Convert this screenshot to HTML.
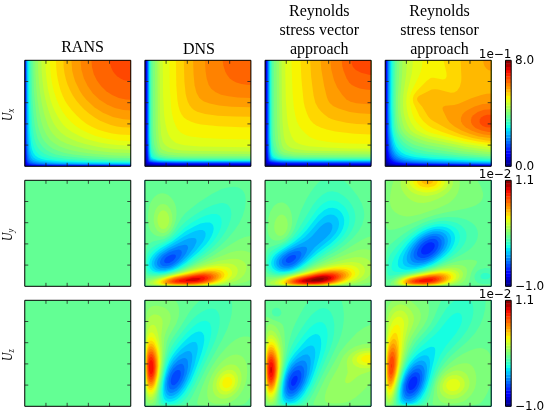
<!DOCTYPE html>
<html><head><meta charset="utf-8"><style>
html,body{margin:0;padding:0;background:#fff;}
body{width:550px;height:415px;position:relative;overflow:hidden;filter:blur(0.3px);}
.fig{position:absolute;left:0;top:0;display:block;}
.t{position:absolute;font-family:"Liberation Serif",serif;font-size:16px;line-height:18.85px;color:#000;text-align:center;white-space:nowrap;}
.cl{position:absolute;font-family:"DejaVu Sans","Liberation Sans",sans-serif;font-size:12px;line-height:12px;color:#000;white-space:nowrap;}
.yl{position:absolute;font-family:"Liberation Serif",serif;font-style:italic;font-size:14.5px;line-height:16px;color:#000;transform:rotate(-90deg) scaleX(0.8);transform-origin:0 0;white-space:nowrap;}
.yl sub{font-size:10.5px;vertical-align:-1.5px;margin-left:0.3px;}
</style></head><body>
<svg class="fig" width="550" height="415" viewBox="0 0 550 415"><g transform="translate(24.75 60.3) scale(1.00000 1.00000)"><rect width="106" height="106" fill="#00008d"/><path fill="#0000b2" d="M0.7 105.3 2.7 105.7 9.3 105.8 106 105.9 106 0 0.1 0 0.2 97.4 0.3 103.4 0.7 105.3Z"/><path fill="#0000d6" d="M2.3 105.3 106 105.7 106 0 0.3 0 0.4 99.4 0.7 104 1.3 105 2.3 105.3Z"/><path fill="#0000fa" d="M6.8 105.3 106 105.6 106 0 0.4 0 0.7 100 1.1 103.4 2 104.7 6.8 105.3Z"/><path fill="#0008ff" d="M28.8 105.3 106 105.4 106 0 0.6 0 0.7 80.2 0.9 96.1 1.3 102.2 2.3 104 4.6 104.8 28.8 105.3Z"/><path fill="#0028ff" d="M7.7 104.7 32.5 105.1 106 105.3 106 0 0.7 0 0.9 73.5 1.3 98.3 1.8 101.4 2.7 103.3 4 104.1 7.7 104.7Z"/><path fill="#0048ff" d="M18.8 104.7 106 105 106 0 1 0 1.2 79.5 2 99.4 2.5 101.4 3.3 102.6 5.3 103.7 9.3 104.3 18.8 104.7Z"/><path fill="#0068ff" d="M54.8 104.7 106 104.8 106 0 1.2 0 1.6 80.8 2.1 94.7 2.7 99 3.3 100.7 4.3 102 6 103 11.9 103.9 54.8 104.7Z"/><path fill="#0084ff" d="M27.6 104 106 104.5 106 0 1.5 0 2 78.2 2.6 92.1 3.3 97.6 4 99.5 5.3 101.3 8.4 102.7 13.9 103.4 27.6 104Z"/><path fill="#00a4ff" d="M68.1 104 106 104.1 106 0 1.9 0 2.6 80.8 3.5 92.8 4.3 96.7 5.3 99.1 6.6 100.5 8.6 101.5 11.9 102.3 17.2 102.9 32.5 103.6 68.1 104Z"/><path fill="#00c4ff" d="M52.4 103.4 106 103.7 106 0 2.3 0 2.6 51 3.2 76.8 4.3 90.1 5 94.1 6 97 7.3 98.9 9 100 11.9 101 15.9 101.7 27.8 102.7 52.4 103.4Z"/><path fill="#00e4f8" d="M54.5 102.7 106 103.2 106 0 2.8 0 3.1 41.7 3.9 72.9 5.1 87.4 6 91.8 7 94.7 8.6 97 10.7 98.7 13.9 99.9 17.5 100.7 30.5 101.9 54.5 102.7Z"/><path fill="#16ffe1" d="M62.6 102 106 102.5 106 0 3.5 0 3.9 37.8 4.8 69.6 6.3 84.8 7.3 89.3 8.7 92.8 10.6 95.3 13.2 97.3 16.7 98.7 21.2 99.7 36.4 101.2 62.6 102Z"/><path fill="#30ffc7" d="M74.8 101.4 106 101.7 106 0 4.3 0 4.7 34.4 6 67.7 7.6 81.5 9.3 87.2 11.3 91.1 13.9 94 17.2 96.1 21.2 97.5 27.2 98.9 41.1 100.2 74.8 101.4Z"/><path fill="#49ffad" d="M67.5 100 106 100.7 106 0 5.3 0 5.9 37.8 7.4 64.3 9.5 78.2 11.2 83.5 13.2 87.4 15.9 90.7 19.2 93.2 23.8 95.3 28.5 96.7 42.4 98.6 67.5 100Z"/><path fill="#63ff94" d="M94.4 99.4 106 99.5 106 0 6.5 0 7.3 33.5 8.4 50.3 9.9 64.9 11.3 72.5 12.9 78.2 15.2 82.8 17.9 86.5 21.2 89.5 26.5 92.5 30.9 94.1 38.4 95.7 62.9 98.2 94.4 99.4Z"/><path fill="#7dff7a" d="M86.8 97.4 106 97.7 106 0 8.3 0 9.2 31.1 11.7 56.3 13.1 64.9 14.6 70.4 17.2 77.2 19.9 81.2 24 85.5 27.8 88.2 33.7 90.8 39.8 92.6 48.1 94.1 59.6 95.5 86.8 97.4Z"/><path fill="#94ff63" d="M96 95.4 106 95.5 106 0 10.5 0 10.7 13.9 11.5 27.8 12.7 39.8 14.6 52 16.6 61.6 18.6 68 21.6 74.2 25.2 79.4 29.2 82.8 35 86.1 40.4 88.3 47.4 90.1 57.9 92.1 69.6 93.7 81.6 94.7 96 95.4Z"/><path fill="#adff49" d="M87.3 92.1 106 92.7 106 0 13.3 0 13.5 11.9 14.3 23.2 15.6 34.4 17.3 44.4 19.8 55 22.8 64.3 25.2 69.2 28.1 73.5 32 77.5 36.4 80.6 41.1 82.9 48.4 85.4 57 87.7 66.2 89.6 76.2 91 87.3 92.1Z"/><path fill="#c7ff30" d="M90.3 88.8 106 89.4 106 0 16.6 0 16.9 10.6 17.7 20.5 19 30.5 20.7 39.1 23.4 49 26.4 57.6 29.2 63.6 32.4 68.2 36.4 72.4 41.1 76 45.7 78.5 51.7 80.9 60.3 83.6 70.2 86 79.5 87.6 90.3 88.8Z"/><path fill="#e1ff16" d="M92.3 84.8 106 85.4 106 0 20.6 0 20.9 9.9 21.9 19.9 23.3 29.1 25.5 38.4 27.8 45.7 30.1 51 34.1 58.3 38.4 64.5 41.7 67.7 47.2 71.6 54.3 75.5 60.3 78.2 66.9 80.3 74.9 82.3 83.5 83.8 92.3 84.8Z"/><path fill="#f8f500" d="M93.8 80.2 106 80.7 106 0 25.3 0 25.6 8.6 26.3 16.6 27.6 24.5 29.2 31.2 31.8 39 34.7 45.7 38 51.7 41.7 56.8 46.4 61.7 51 65.7 56.3 69.2 62.9 72.5 70.2 75.4 77.3 77.5 84.8 79 93.8 80.2Z"/><path fill="#ffd700" d="M94.8 74.2 106 74.8 106 0 31.2 0 31.5 7.9 32.3 15.2 33.8 22.8 35.7 29.8 37.8 35.3 40.4 40.7 43.2 45 47.3 50.3 51.7 55 56.8 59.6 62 63.6 66.9 66.5 72.9 69.1 80.2 71.5 87.4 73.1 94.8 74.2Z"/><path fill="#ffb900" d="M97.8 66.9 106 67.3 106 0 38.7 0 38.9 6.6 39.7 12.6 41 18.5 42.6 23.8 45.2 29.8 48.1 35.1 51.7 40.4 55.5 45 59.6 49.3 64.3 53.3 69.6 57 74.9 60.1 80.8 62.8 86.1 64.7 92.1 66.1 97.8 66.9Z"/><path fill="#ff9c00" d="M98.7 59 106 59.4 106 0 46.6 0 47.5 10.6 48.8 15.9 50.5 21.2 55 30.5 58.1 35.1 61.6 39.5 69.6 46.9 78.2 52.5 88.1 56.7 98.7 59Z"/><path fill="#ff8200" d="M98.6 49.7 106 50.2 106 0 55.8 0 56.6 9.3 59.1 17.9 62.9 25.8 68.2 33.1 74.9 39.4 82.2 44.2 90.1 47.7 98.6 49.7Z"/><path fill="#ff6400" d="M101 39.1 106 39.4 106 0 66.6 0 67.3 7.3 69.1 13.9 72.2 20.3 76.2 25.8 81.5 30.9 87.4 34.8 94.1 37.6 101 39.1Z"/><path fill="#ff4700" d="M102.1 20.5 106 20.9 106 0 85.1 0 85.5 4 86.4 7.3 88 10.6 89.8 13.2 92.4 15.9 95.4 18 98.7 19.6 102.1 20.5Z"/></g><g transform="translate(144.9 60.3) scale(1.00000 1.00000)"><rect width="106" height="106" fill="#00008d"/><path fill="#0000b2" d="M15 105.3 106 105.4 106 0 0.4 0 0.4 86.8 0.8 102 1.3 103.9 2.7 104.6 6.6 105.1 15 105.3Z"/><path fill="#0000d6" d="M12.6 104.7 106 104.9 106 0 0.8 0 0.9 84.1 1.4 100.7 1.8 102.7 2.7 103.6 6 104.3 12.6 104.7Z"/><path fill="#0000fa" d="M11.1 104 106 104.4 106 0 1.2 0 1.3 81.5 1.7 98.7 2.1 101.4 2.7 102.7 5.3 103.5 11.1 104Z"/><path fill="#0008ff" d="M9.9 103.4 27.8 103.8 106 103.9 106 0 1.6 0 1.6 79.5 2.1 97.4 2.7 101.2 3.3 102.2 9.9 103.4Z"/><path fill="#0028ff" d="M32.1 103.4 106 103.4 106 0 2 0 2.1 84.1 2.4 94.7 3.1 100.7 4 101.9 9.9 102.8 32.1 103.4Z"/><path fill="#0048ff" d="M16.9 102.7 106 102.9 106 0 2.3 0 2.4 80.2 3.2 98.1 3.7 100.7 4.6 101.5 9.9 102.3 16.9 102.7Z"/><path fill="#0068ff" d="M12.9 102 31.1 102.5 106 102.5 106 0 2.7 0 2.8 78.2 3.4 96.1 4 99.8 4.6 100.9 7.3 101.5 12.9 102Z"/><path fill="#0084ff" d="M31.6 102 106 102.1 106 0 3.1 0 3.2 82.2 3.6 93.4 4.4 99.4 4.7 100 5.7 100.7 10.1 101.4 31.6 102Z"/><path fill="#00a4ff" d="M16.1 101.4 106 101.7 106 0 3.5 0 3.5 77.5 4.2 95.4 4.8 98.7 5.8 100 9.3 100.8 16.1 101.4Z"/><path fill="#00c4ff" d="M12.8 100.7 31.8 101.3 106 101.3 106 0 3.8 0 3.9 74.9 4.4 92.8 5.1 97.4 6 99.2 8.5 100 12.8 100.7Z"/><path fill="#00e4f8" d="M21.4 100.7 106 100.9 106 0 4.2 0 4.3 77.5 4.6 88.8 5.3 95.6 6.1 98.1 8.6 99.3 13.9 100.2 21.4 100.7Z"/><path fill="#16ffe1" d="M19.1 100 37.8 100.4 106 100.5 106 0 4.6 0 4.7 74.9 5.5 92.8 6.2 96.1 8.1 98.1 12.5 99.4 19.1 100Z"/><path fill="#30ffc7" d="M19 99.4 37.8 99.8 106 99.9 106 0 5.1 0 5.2 74.9 6 91.6 7.3 95.3 9.3 97.2 13.6 98.7 19 99.4Z"/><path fill="#49ffad" d="M21.3 98.7 40.4 99.2 106 99.3 106 0 5.6 0 5.7 73.5 6 83.5 6.6 88.8 8 93.1 10.4 96.1 14.6 97.8 21.3 98.7Z"/><path fill="#63ff94" d="M28.2 98.1 106 98.4 106 0 6.3 0 6.6 70.9 7.1 81.5 8 87.6 10.1 92.8 11.7 94.7 13.2 95.8 15.8 96.7 19.2 97.3 28.2 98.1Z"/><path fill="#7dff7a" d="M27.7 96.7 47.7 97.2 106 97.3 106 0 7.8 0 8.1 65.6 8.6 77.5 9.5 84.1 11.6 90.8 12.8 92.8 14.3 94.1 19.2 95.8 27.7 96.7Z"/><path fill="#94ff63" d="M35.6 95.4 106 95.8 106 0 10 0 10.6 65.6 11.3 78.2 12.7 86.8 14.3 90.8 15.6 92.1 17.2 92.9 24.5 94.5 35.6 95.4Z"/><path fill="#adff49" d="M44.8 93.4 106 93.7 106 0 12.4 0 13 66.9 13.8 78.8 15.2 86.1 16.2 88.1 17.6 89.4 22.4 91.4 31.1 92.8 44.8 93.4Z"/><path fill="#c7ff30" d="M53.7 90.8 106 91.1 106 0 14.6 0 15.2 59.3 16.2 74.2 17.9 81.2 19.2 83.5 21.2 85.5 24.5 87.4 28.1 88.8 36.9 90.1 53.7 90.8Z"/><path fill="#e1ff16" d="M85.3 86.8 106 86.9 106 0 17.9 0 18.2 35.1 19.3 55 20.5 63.3 22.1 70.2 23.8 74.8 26 78.2 28.4 80.8 31.1 82.6 34.4 83.8 39.8 84.9 55 86.2 85.3 86.8Z"/><path fill="#f8f500" d="M78.7 78.8 106 79.2 106 0 24.5 0 24.9 27.8 26.3 47.7 27.3 54.3 28.5 59.5 30.5 64.8 32.5 68.6 35.1 71.6 37.8 73.4 41.1 74.9 45.7 76.2 58.3 77.8 78.7 78.8Z"/><path fill="#ffd700" d="M96.4 66.9 106 67 106 0 31 0 31.4 25.2 32.5 39.8 33.5 45.7 34.8 50.3 36.7 54.3 38.8 57 41.7 59.3 45.7 61.3 50.4 62.9 56.3 64.1 73.5 66 96.4 66.9Z"/><path fill="#ffb900" d="M90.4 56.3 106 56.5 106 0 38.9 0 39.5 21.2 40.7 33.1 41.7 37.8 43 41.7 44.7 45 46.8 47.7 49.1 49.7 52.3 51.5 60.3 53.8 72.9 55.4 90.4 56.3Z"/><path fill="#ff9c00" d="M86.4 46.4 106 47 106 0 48.2 0 48.7 14.6 49.7 25.2 51.6 32.5 54.3 37.4 56.3 39.3 59 41.1 64.9 43.3 74.2 45.2 86.4 46.4Z"/><path fill="#ff8200" d="M92.8 37.1 106 37.6 106 0 60 0 60.7 11.3 61.8 18.5 63.7 24.5 66.3 28.5 70.4 31.8 76.2 34.4 83.5 36 92.8 37.1Z"/><path fill="#ff6400" d="M102 24.5 106 24.8 106 0 77.7 0 78.5 5.3 80.3 11.3 82.2 14.7 84.7 17.9 88 20.5 91.4 22.2 96.7 23.7 102 24.5Z"/></g><g transform="translate(265.05 60.3) scale(1.00000 1.00000)"><rect width="106" height="106" fill="#00008d"/><path fill="#0000b2" d="M13.9 105.3 106 105.4 106 0 0.4 0 0.5 87.4 0.9 102 1.3 103.6 2.7 104.6 6.6 105.1 13.9 105.3Z"/><path fill="#0000d6" d="M12.3 104.7 106 104.9 106 0 0.8 0 0.9 83.5 1.3 100 1.9 102.7 2.7 103.5 6 104.3 12.3 104.7Z"/><path fill="#0000fa" d="M11.4 104 29.2 104.3 106 104.4 106 0 1.2 0 1.3 81.5 1.7 98.7 2.4 102 3.3 102.9 6.6 103.6 11.4 104Z"/><path fill="#0008ff" d="M10.7 103.4 28.5 103.8 106 103.9 106 0 1.6 0 1.7 80.2 2.1 97.4 2.6 100.7 3.3 102 6 102.8 10.7 103.4Z"/><path fill="#0028ff" d="M86.5 103.4 106 103.4 106 0 2 0 2.1 84.8 2.5 96.1 3.3 100.8 4 101.5 6.6 102.3 17.2 103.1 86.5 103.4Z"/><path fill="#0048ff" d="M21.3 102.7 106 102.9 106 0 2.3 0 2.4 82.2 2.7 92.1 3.3 98.7 4.1 100.7 6 101.5 11.9 102.3 21.3 102.7Z"/><path fill="#0068ff" d="M16.7 102 106 102.4 106 0 2.7 0 2.8 78.2 3.5 96.1 4.2 99.4 5.3 100.6 9.9 101.5 16.7 102Z"/><path fill="#0084ff" d="M14.4 101.4 32.5 101.8 106 101.9 106 0 3.1 0 3.2 77.5 3.8 94.7 4.6 98.7 5.7 100 8.6 100.8 14.4 101.4Z"/><path fill="#00a4ff" d="M40.7 101.4 106 101.4 106 0 3.5 0 3.7 80.8 4.1 91.4 5.2 98.1 6 99.3 6.6 99.6 12.7 100.7 22.5 101.2 40.7 101.4Z"/><path fill="#00c4ff" d="M22 100.7 106 100.9 106 0 4 0 4.1 76.8 4.4 88.1 5.1 94.7 6 98 7.3 99.1 12.6 100.1 22 100.7Z"/><path fill="#00e4f8" d="M19.2 100 37.8 100.4 106 100.4 106 0 4.5 0 4.6 75.5 5.4 92.8 6.1 96.1 7.4 98.1 11.9 99.4 19.2 100Z"/><path fill="#16ffe1" d="M18.2 99.4 37.1 99.8 106 99.9 106 0 5 0 5.2 73.5 6 91.6 6.9 95.4 8.6 97.4 12.5 98.7 18.2 99.4Z"/><path fill="#30ffc7" d="M18.5 98.7 37.1 99.2 106 99.4 106 0 5.6 0 5.7 72.9 6 82.9 6.6 90.1 7.8 94.1 9.9 96.5 13.9 98.1 18.5 98.7Z"/><path fill="#49ffad" d="M82.2 98.7 106 98.7 106 0 6.3 0 6.6 80.2 7.8 89.4 8.6 91.9 9.9 94 11.4 95.4 13.9 96.7 17.2 97.6 21.9 98.1 37.8 98.6 82.2 98.7Z"/><path fill="#63ff94" d="M28 97.4 106 97.9 106 0 7.2 0 7.5 66.2 7.9 78.8 8.7 85.5 10.6 91 12.3 93.4 13.9 94.8 18.6 96.4 28 97.4Z"/><path fill="#7dff7a" d="M95.7 96.7 106 96.7 106 0 8.9 0 9.2 54.3 9.7 73.5 10.3 80.2 11.1 84.8 12.6 89.4 14.2 92.1 15.9 93.5 18.9 94.7 29.6 96.1 48.4 96.5 95.7 96.7Z"/><path fill="#94ff63" d="M41.6 94.7 106 95.2 106 0 11.4 0 12.1 65.6 13 79.5 14.6 87.4 15.4 89.4 16.6 91 19.9 92.8 27.9 94.1 41.6 94.7Z"/><path fill="#adff49" d="M42.5 92.8 106 93.4 106 0 14 0 14.6 62.9 15.5 77.5 16.8 84.8 17.9 87.3 19 88.8 22.8 90.8 30.5 92.1 42.5 92.8Z"/><path fill="#c7ff30" d="M57.6 90.8 106 91.3 106 0 16.5 0 16.8 41.1 17.4 61 18.6 74.4 19.4 78.8 20.5 82.2 21.9 84.4 23.8 86.2 26.5 87.6 30.2 88.8 40.8 90.1 57.6 90.8Z"/><path fill="#e1ff16" d="M84.7 88.1 106 88.3 106 0 20 0 20.8 40.4 22.1 58.3 22.9 64.3 24.2 69.6 26.5 76 28.5 79.5 30.5 81.6 33.8 83.5 37.9 84.8 43.7 86 61 87.3 84.7 88.1Z"/><path fill="#f8f500" d="M96.4 83.5 106 83.6 106 0 26.3 0 27.6 33.8 28.7 46.4 30.2 55 31.8 60.9 33.8 65.2 36.4 69 40.4 73.2 44.1 76.2 47.8 78.2 52.3 79.6 60.3 81.2 68.2 82.1 84.8 83.2 96.4 83.5Z"/><path fill="#ffd700" d="M89.3 73.5 106 74.1 106 0 35.4 0 36.5 20.5 38.6 41.7 39.8 46.9 41.7 52.8 43.6 57 45.6 60.3 48.2 62.9 51 64.9 55.6 67.1 61.6 69.1 70.2 71.1 89.3 73.5Z"/><path fill="#ffb900" d="M91.6 63.6 106 64.1 106 0 45.1 0 46.2 17.2 48.5 35.1 50.3 42.4 53.1 47.7 56.3 51.4 59.6 54.5 62.9 56.9 66.2 58.7 71.3 60.3 81.5 62.4 91.6 63.6Z"/><path fill="#ff9c00" d="M93.8 53 106 53.6 106 0 55.6 0 56.2 8.6 59.1 25.8 61.7 36.4 62.9 39.8 64.5 42.4 68 45.7 73.5 48.2 84.8 51.8 93.8 53Z"/><path fill="#ff8200" d="M99.9 43.7 106 44 106 0 65.4 0 66.1 8.6 69 19.9 72.2 27.2 77.1 34.4 81.4 39.1 85.5 41.5 91.4 42.9 99.9 43.7Z"/><path fill="#ff6400" d="M100.5 29.1 106 29.7 106 0 76.6 0 77.3 6 78.3 9.9 81.5 17.9 84.1 22.2 86.8 24.7 90.2 26.5 94.7 28.1 100.5 29.1Z"/><path fill="#ff4700" d="M104.9 14.6 106 14.7 106 0 86.1 0 86.7 3.3 87.9 6.6 90.8 9.8 96.1 12.5 104.9 14.6Z"/></g><g transform="translate(385.2 60.3) scale(1.00000 1.00000)"><rect width="106" height="106" fill="#00008d"/><path fill="#0000b2" d="M9 105.3 106 105.7 106 0 0.3 0 0.3 76.8 0.7 98.8 1.3 102.5 2.5 104 4.6 104.9 9 105.3Z"/><path fill="#0000d6" d="M52.9 105.3 106 105.5 106 0 0.6 0 0.8 85.5 1.2 96.7 2.2 101.4 3.2 102.7 4.6 103.6 10.6 104.8 52.9 105.3Z"/><path fill="#0000fa" d="M22 104.7 106 105.2 106 0 0.9 0 1 72.9 1.3 90.2 2 97.4 3.3 100.8 4.6 102.1 6.6 103.1 11.3 104.1 22 104.7Z"/><path fill="#0008ff" d="M65 104.7 106 104.9 106 0 1.2 0 1.5 80.8 2.2 93.4 2.8 96.7 3.9 99.4 5.9 101.4 8 102.5 14.6 103.8 29.2 104.3 65 104.7Z"/><path fill="#0028ff" d="M39 104 106 104.6 106 0 1.6 0 1.8 72.2 2.4 88.8 3.7 96.1 4.6 98.1 6.3 100 8.6 101.6 11.3 102.5 19.9 103.5 39 104Z"/><path fill="#0048ff" d="M80.2 104 106 104.3 106 0 2 0 2 55.6 2.5 78.8 3.4 90.8 4.5 94.7 6 97.5 8 99.7 10.6 101.2 13.6 102 18.5 102.7 36.4 103.4 80.2 104Z"/><path fill="#0068ff" d="M64.4 103.4 106 103.9 106 0 2.4 0 2.7 71.6 4 88.2 5.1 92.8 6.6 95.9 8.6 98.4 11 100 14.6 101.2 18.6 101.9 31.1 102.7 64.4 103.4Z"/><path fill="#0084ff" d="M96.4 103.4 106 103.5 106 0 2.9 0 2.9 51 3.4 72.9 4.1 82.2 5.3 88.8 6.9 93.4 9.2 96.7 11.7 98.7 14.8 100 19.2 101 25.8 101.7 44.4 102.4 96.4 103.4Z"/><path fill="#00a4ff" d="M88 102.7 106 103 106 0 3.5 0 3.4 49.7 4 70.6 4.8 79.5 6 86.2 7.4 90.8 9.7 94.7 11.9 96.8 15.4 98.7 19.9 99.9 25.5 100.7 43.7 101.7 88 102.7Z"/><path fill="#00c4ff" d="M86.2 102 106 102.4 106 0 4.3 0 4.1 49 4.6 68.2 5.6 76.8 6.9 84.1 8.5 89.4 10.6 93 13.2 95.5 16.8 97.4 21.2 98.7 27.8 99.8 43.7 100.8 86.2 102Z"/><path fill="#00e4f8" d="M89.1 101.4 106 101.8 106 0 5.1 0 4.9 48.4 5.5 66.9 6.5 75.5 8 82.7 9.9 88.1 11.9 91.3 15 94.1 18.8 96.1 23.2 97.4 29.8 98.6 45.7 99.8 89.1 101.4Z"/><path fill="#16ffe1" d="M96.8 100.7 106 101 106 0 6.1 0 5.9 47.7 6.6 66.9 7.5 74.2 9.3 81.7 11.1 86.1 13.5 89.4 16.4 92.1 20 94.1 25.8 96 31.1 97 46.4 98.5 96.8 100.7Z"/><path fill="#30ffc7" d="M89.9 99.4 106 100 106 0 7.2 0 6.9 45.7 7.6 65.6 8.5 72.2 9.9 78 11.9 82.8 14.1 86.1 17.2 89.2 20.5 91.4 25.6 93.4 31.1 94.8 45.8 96.7 89.9 99.4Z"/><path fill="#49ffad" d="M102.9 98.7 106 98.8 106 0 8.4 0 8 45 8.9 65.6 9.9 71.6 11.3 75.9 13.7 80.8 16.6 84.5 20.5 87.7 26.5 90.7 31.1 92.1 39.8 93.8 73.5 97 102.9 98.7Z"/><path fill="#63ff94" d="M104.3 97.4 106 97.5 106 0 9.8 0 9.2 42.4 9.9 61 10.8 67.6 12.1 72.2 14.6 77.2 17.9 81.4 21.9 84.6 27.8 87.6 31.8 89 42.4 91.4 76.3 95.4 104.3 97.4Z"/><path fill="#7dff7a" d="M98.5 95.4 106 95.9 106 0 11.7 0 10.7 39.1 11.1 55 12.1 62.9 13.2 68.8 15.2 73.2 17.9 76.8 21.6 80.2 27.2 83.6 31.1 85.2 41.1 87.9 75.5 93.2 98.5 95.4Z"/><path fill="#94ff63" d="M98.6 93.4 106 94 106 0 14.1 0 13.9 14.6 12.6 37.8 12.9 51.7 13.8 59.6 15.4 66.9 16.8 70.2 19.2 73.6 23.2 77.1 28.5 80.3 33.2 82.2 41.7 84.7 76.9 90.9 98.6 93.4Z"/><path fill="#adff49" d="M100.8 91.4 106 91.8 106 0 17.3 0 16.9 13.9 15 36.4 15.1 48.4 15.8 55 17.2 61.9 19.1 67.6 21.3 70.9 24.9 74.2 29.2 76.8 35.8 79.4 43.1 81.7 79.5 88.7 100.8 91.4Z"/><path fill="#c7ff30" d="M104.2 89.4 106 89.6 106 0 21.8 0 21.1 13.2 18 35.1 17.8 45 18.5 53 19.9 58.7 22.4 64.9 25.2 69.6 27.8 72 31.1 74 38 76.8 44.4 78.8 82.2 86.6 92.8 88.2 104.2 89.4Z"/><path fill="#e1ff16" d="M100.9 86.8 106 87.3 106 0 27.8 0 26.7 12.6 21.7 33.1 21 41.1 21.6 48.4 23.1 55.6 25.8 62.2 29.2 67.3 31.5 69.6 35.8 72.2 40.1 74.2 45.1 75.9 80.2 83.6 100.9 86.8Z"/><path fill="#f8f500" d="M103 84.8 106 85.1 106 0 37.5 0 36.7 6.6 35.3 11.9 33.4 16.6 26.5 30.5 25.1 34.4 24.5 37.8 24.8 43.7 26.9 53 28.7 57.6 31.1 61.5 35 65.6 38.9 68.9 42 70.9 46.4 72.7 79.5 81.1 91.4 83.3 103 84.8Z"/><path fill="#ffd700" d="M104.5 82.8 106 82.9 106 0 58.3 0 61.3 12.6 61.4 15.9 60.6 17.9 59.6 18.7 57.6 19.1 48.4 17.4 46.4 17.5 45.1 17.9 41.7 20.4 31.1 31.2 28.4 35.1 27.6 38.4 28.1 42.4 34.2 55.6 38.1 61 43.1 65.3 47 67.6 57 71.6 68.3 75.5 80.5 78.8 92.7 81.3 104.5 82.8Z"/><path fill="#ffb900" d="M101.1 80.2 106 80.6 106 0 75.4 0 76.2 16.6 76 21.2 74.6 26.5 71.9 30.5 68.9 32.2 65.6 32.5 53 29.3 49.7 28.9 46.4 29.1 33.6 35.8 32 37.8 31.9 39.8 33 41.7 37 46.4 42.9 56.3 45.5 59 48.4 61 62.9 68.9 75.5 74.2 87.4 77.8 101.1 80.2Z"/><path fill="#ff9c00" d="M102.3 77.5 106 77.8 106 33.1 101.4 33.4 96.1 34.7 86.1 38 73.5 43.5 68.9 44.6 60.3 45.5 58.3 46.2 57.6 46.9 57.3 48.4 57.8 50.3 62 59 64.4 62.3 69.3 66.2 76.3 70.2 84.5 73.5 93.4 76.1 102.3 77.5ZM103.6 9.9 106 10.4 106 0 98 0 98.4 3.3 99.4 6 101.4 8.5 103.6 9.9Z"/><path fill="#ff8200" d="M105.9 74.9 106 43.1 97.4 43.8 89.4 46.1 82.4 49.7 79.5 51.8 77.2 54.3 75.7 57.6 75.8 60.9 77.5 64.3 80.4 66.9 86.1 70.2 92.1 72.5 98.7 74.1 105.9 74.9Z"/><path fill="#ff6400" d="M103.3 71.6 106 71.7 106 48.9 98.7 49.5 92.5 51.7 88 55 86.5 57 85.7 59.6 85.9 62.3 86.9 64.3 88.6 66.2 90.3 67.6 96.3 70.2 103.3 71.6Z"/><path fill="#ff4700" d="M100.9 66.9 106 67.3 106 54.4 102 54.5 98.7 55.5 96.3 57 94.7 59 94.3 61.6 95.2 63.6 97.5 65.6 100.9 66.9Z"/></g><g transform="translate(24.75 180.3) scale(1.00000 1.00000)"><rect width="106" height="106" fill="#63ff94"/></g><g transform="translate(144.9 180.3) scale(1.00000 1.00000)"><rect width="106" height="106" fill="#0048ff"/><path fill="#0068ff" d="M0 106 106 106 106 0 0 0 0 106ZM21.2 82.9 19.7 82.2 19.2 80.8 19.9 78.8 21.7 76.8 24.5 75.1 27.2 74.2 29.8 74.1 30.8 74.9 31 76.2 30.6 77.5 28.5 80.2 24.5 82.6 21.2 82.9Z"/><path fill="#0084ff" d="M0 106 106 106 106 0 0 0 0 106ZM17.9 85.6 15.8 84.1 15.2 82.8 15.1 81.5 16.5 78.2 19.2 75.3 23.8 72.3 29.2 70.1 33.8 69.3 35.2 69.6 36.4 70.3 37 72.2 36.3 74.9 34.2 78.2 31 81.5 27.2 84.1 23.8 85.4 20.5 86 17.9 85.6Z"/><path fill="#00a4ff" d="M0 106 106 106 106 0 0 0 0 106ZM15.9 87.5 14.3 86.8 12.9 85.5 12.3 84.1 12.1 82.2 12.6 80.2 13.6 78.2 17.2 74.2 24.5 69.6 33.8 65.6 39.8 64.4 41.7 64.8 42.7 65.6 43.2 66.9 43.1 68.2 41.2 72.9 37.9 77.5 33.2 82.2 29.2 85 24.5 87.1 19.9 88 15.9 87.5Z"/><path fill="#00c4ff" d="M0 106 106 106 106 0 0 0 0 106ZM15.9 89.4 13.2 88.7 11.2 87.4 9.8 85.5 9.3 83.5 9.5 81.5 10.6 78.8 12.4 76.2 14.9 73.5 22.5 68.4 39.8 59.7 43.7 58.3 47 57.6 49.4 57.6 51 58.5 51.6 59.6 51.6 61.6 49.2 66.9 43.3 74.9 36.7 81.5 31.3 85.5 26.5 87.9 20.5 89.4 15.9 89.4Z"/><path fill="#00e4f8" d="M0 106 106 106 106 0 0 0 0 106ZM14.6 90.8 11.5 90.1 9.1 88.8 7.5 86.8 6.7 84.1 7 81.5 8.3 78.2 10.6 75 13.2 72.4 18.6 68.6 27.8 63.2 39.1 56.1 45.7 52.6 50.3 50.7 54.3 49.7 57.6 49.8 59.8 51 60.7 53 60.6 55.6 59.4 59 57.5 62.3 51.1 70.2 40.9 80.2 34 85.5 27.8 88.7 20.5 90.6 14.6 90.8Z"/><path fill="#16ffe1" d="M0 106 106 106 106 0 0 0 0 106ZM14.6 92.1 10.6 91.6 8 90.6 5.7 88.8 4.5 86.1 4.3 82.8 5.3 78.8 7.3 75.5 10.6 71.9 15.3 68.2 27.7 60.9 41.1 50.8 49.7 45.9 55.6 43.3 61 42.1 64.9 42.3 67.3 43.7 68.4 45.7 68.8 48.4 68.2 51.7 66.7 55.6 64.4 59.6 61.4 63.6 53.7 71.6 41.2 82.1 33.2 87.4 28.8 89.4 24.5 90.8 19.2 91.9 14.6 92.1Z"/><path fill="#30ffc7" d="M0 106 106 106 106 0 0 0 0 106ZM8.6 92.8 5.3 91.5 3.7 90.1 2.6 87.4 2.4 83.5 2.8 79.5 4 76.1 6.1 72.9 9.3 69.7 13.9 66.4 25.2 60.3 29.4 57 40.4 46.9 46.4 42.8 54.3 38.3 61 35.3 66.9 33.7 71.6 33.8 73.5 34.6 75 35.8 76.4 38.4 76.8 42.4 76 47 74.2 51.7 71.3 57 67.8 61.6 63.7 66.2 58.6 70.9 43.1 82.8 38.1 86.1 33.1 88.8 26.5 91.2 19.9 92.7 13.9 93.2 8.6 92.8Z"/><path fill="#49ffad" d="M0 106 106 106 106 0 0 0 0 106ZM7.3 94.1 4.2 93.4 2.4 92.1 1.5 89.4 1.2 85.5 1.4 79.5 2.3 74.2 4 70.7 6.6 67.8 11.3 64.7 19.9 60.9 24.5 58.2 28.9 54.3 36.4 45.4 41.1 41 49.7 34.8 60.3 28.3 68.2 24.6 74.9 22.9 77.5 22.7 80.2 23.1 82.2 24 84.1 25.6 85.9 29.1 86.5 33.8 85.7 39.1 83.8 45 80.8 51 76.8 57 71.8 62.9 66.4 68.2 59.8 73.5 51.2 79.5 41.9 85.5 35.6 88.8 28.5 91.4 20.5 93.4 13.2 94.3 7.3 94.1Z"/><path fill="#63ff94" d="M0 106 106 106 106 0 0 0 0 106ZM4 95.5 2 94.9 1 93.4 0.4 84.1 0.7 74.5 1.3 68.9 2.4 65.6 4 63.5 8 61.3 19.2 58.6 24.4 55.6 29.2 50.3 36.4 38 40.4 33 45.1 28.9 53.7 22.3 66.9 13.6 76.9 8.8 81.5 7.4 85.5 6.6 89.4 6.4 92.8 7 95.4 8.1 97.6 9.9 99 11.9 100.2 14.6 100.9 20.5 100.1 27.8 97.8 35.8 94.2 43.1 89.8 49.7 83.2 57.6 75.8 64.9 69.5 70.2 61.9 75.5 47.3 84.1 38.1 88.8 31.1 91.4 20.5 94.1 11.3 95.4 4 95.5Z"/><path fill="#7dff7a" d="M0.7 105.3 4.6 105.8 30.5 105.9 106 105.4 106 55.6 100 56.7 94.1 59.2 88.1 62.6 68 75.5 56.4 81.5 40.8 88.8 33.5 91.4 23.8 94 1.5 98.1 0.8 98.7 0.4 100 0.3 104 0.7 105.3ZM15 56.3 17.9 56.1 21.2 54.9 23.8 53.1 26.3 50.3 28.3 47 29.9 43.1 31 39.1 31.6 34.4 31.6 30.5 31 26.5 29.9 23.2 28.2 19.9 25.8 16.9 23.2 14.8 20.5 13.5 17.9 13 15.2 13.3 12.6 14.3 9.9 16.2 7.5 19.2 5.6 22.5 4.4 25.8 3 34.4 3.2 43.1 3.9 46.4 5.1 49.7 6.9 52.3 9.2 54.3 11.9 55.7 15 56.3Z"/><path fill="#94ff63" d="M7.8 105.3 37.1 105.8 72.2 105.4 90.3 104 100 102 103.1 100.7 106 98.9 106 72.8 101.4 70.9 96.7 70.3 91.4 70.7 86.1 72 38 90.8 28.9 93.4 4.3 99.4 3.1 100 2.1 101.4 1.8 102.7 2.2 104 3.3 104.7 7.8 105.3ZM15.1 52.3 17.2 52.8 19.2 52.6 21.2 51.7 23 50.3 25.8 46.2 27.5 40.4 27.3 34.4 25.5 29.1 22.5 25.3 20.5 24.1 18.6 23.6 15.2 24.2 12.5 26.5 10.2 30.5 8.9 35.8 8.8 41.1 10 46.4 12.3 50.3 15.1 52.3Z"/><path fill="#adff49" d="M16.2 105.3 39.1 105.6 62.7 105.3 73.6 104.7 83.5 103.2 91 100.7 94.6 98.7 97.1 96.7 99.3 94.1 100.7 91.4 101.5 88.1 101.4 85.5 100.6 83.5 98.7 81.3 96.1 79.8 92.8 78.8 88.8 78.4 84.8 78.6 74.2 80.5 59.6 84.5 36.2 92.1 15.1 97.4 8.8 99.4 5.4 101.4 4.8 102.7 5.1 103.4 6.1 104 8.6 104.7 16.2 105.3ZM16.6 48.4 19.2 48.6 21.2 47.6 23.2 45 24.3 41.1 24.2 37.1 23.1 33.8 21.2 31.2 18.6 30 16.6 30.4 14.6 32.2 13.2 34.9 12.6 37.8 12.6 41.1 13.4 44.4 14.6 46.6 16.6 48.4Z"/><path fill="#c7ff30" d="M24.8 105.3 59.6 105.1 69.6 104.4 77.5 103.1 84.6 100.7 89.6 97.4 91.3 95.4 92.3 93.4 92.9 90.8 92.7 88.8 91.7 86.8 89.4 84.8 86.8 83.8 83.5 83.2 74.2 83.4 61 85.8 38.7 92.1 17.8 97.4 10.7 100 8.4 102 8.4 102.7 8.9 103.4 10.2 104 15.2 104.9 24.8 105.3Z"/><path fill="#e1ff16" d="M17.8 104.7 30.5 105.2 51 105.1 62.3 104.7 71.6 103.5 78.8 101.4 83.5 98.7 86.5 95.4 87.2 93.4 87.1 91.4 86.1 89.4 84.8 88.1 82.2 86.8 79.5 86.1 71.6 85.8 61.6 87.1 23.8 96.3 16.1 98.7 12.3 100.7 11.3 102 11.3 102.7 13.7 104 17.8 104.7Z"/><path fill="#f8f500" d="M22.3 104.7 51.7 104.9 61 104.4 68.5 103.4 75.4 101.4 80.1 98.7 82.4 96.1 83 94.1 82.9 92.8 81.8 90.8 80.2 89.5 77.5 88.4 74.9 87.9 66.9 87.7 57 89.1 25.2 96.5 16.7 99.4 13.9 101.4 13.9 102.7 16.9 104 22.3 104.7Z"/><path fill="#ffd700" d="M28.7 104.7 51.7 104.6 60.5 104 66.2 103.1 72.2 101.4 76.3 99.4 79 96.7 79.6 94.1 78.6 92.1 76.9 90.8 74.2 89.8 70.9 89.2 62.9 89.3 51.7 91.1 26.5 96.8 21.2 98.3 17.5 100 16.1 101.4 15.9 102 16.3 102.7 17.4 103.4 21.2 104.2 28.7 104.7Z"/><path fill="#ffb900" d="M23.7 104 32.5 104.5 45.7 104.5 55.6 104.1 62.3 103.3 67.8 102 72.6 100 75.9 97.4 76.6 96.1 76.6 94.7 76 93.4 74.5 92.1 69.6 90.6 62.3 90.4 53 91.6 29.8 96.5 22.1 98.7 18.5 100.7 18 102 18.6 102.7 20.1 103.4 23.7 104Z"/><path fill="#ff9c00" d="M28.5 104 49.7 104.1 62.3 102.7 67.3 101.4 71.3 99.4 73.4 97.4 73.9 95.4 73.3 94.1 71.6 92.8 66.2 91.5 59 91.6 49 93.1 29.8 97 22.5 99.4 20.4 100.7 20 101.4 20.1 102 20.9 102.7 23.2 103.4 28.5 104Z"/><path fill="#ff8200" d="M26.3 103.4 33.8 103.8 43.7 103.9 52.3 103.6 59 102.8 64.3 101.5 67.9 100 70.6 98.1 71.4 96.1 70.9 94.9 70 94.1 65.6 92.6 59 92.5 51 93.4 31.1 97.3 24.5 99.3 22.4 100.7 22.1 101.4 22.3 102 23.4 102.7 26.3 103.4Z"/><path fill="#ff6400" d="M31.6 103.4 48.4 103.4 59 102.2 63.6 100.9 66.8 99.4 68.7 97.4 68.7 96.1 67.5 94.7 65.6 93.9 59 93.3 51 94.1 36.7 96.7 28.3 98.7 24.5 100.7 24.5 101.7 25.8 102.5 31.6 103.4Z"/><path fill="#ff4700" d="M30.6 102.7 44.4 103.1 56.3 102.1 63.2 100 65.3 98.7 66.2 97.4 66.2 96.7 65.6 95.8 64.3 95.1 60.3 94.3 54.3 94.4 47.2 95.4 33.5 98.1 29 99.4 26.9 100.7 26.8 101.4 27.7 102 30.6 102.7Z"/><path fill="#ff2900" d="M31.9 102 42.4 102.6 53 102 56.5 101.4 60.7 100 62.8 98.7 63.4 97.4 62.3 96.1 59 95.3 54.3 95.3 48.4 95.9 36.9 98.1 31.9 99.4 29.7 100.7 30 101.4 31.9 102Z"/><path fill="#fa0f00" d="M35.1 101.4 43.1 102 52.3 101.4 57.7 100 59 99.4 60.2 98 60 97.4 59 96.7 57 96.3 48.5 96.7 35.8 99.4 34.3 100 33.8 100.7 35.1 101.4Z"/><path fill="#d60000" d="M41.5 100.7 49.9 100.7 53.3 100 55.8 98.7 55.6 98.1 53.7 97.6 47 98 41.4 99.4 40.4 100 41.5 100.7Z"/></g><g transform="translate(265.05 180.3) scale(1.00000 1.00000)"><rect width="106" height="106" fill="#0048ff"/><path fill="#0068ff" d="M0 106 106 106 106 0 0 0 0 106ZM21.9 82.3 20.9 81.5 20.7 80.2 21.2 78.8 23.1 76.8 25.3 75.5 27.8 74.8 29.8 74.8 30.8 75.5 31.1 76.8 30.6 78.2 28.2 80.8 25.2 82.4 23.2 82.6 21.9 82.3Z"/><path fill="#0084ff" d="M0 106 106 106 106 0 0 0 0 106ZM21.2 85.5 19.2 85.1 17.9 84.3 16.7 82.2 17.1 79.5 19.7 76.2 23.8 73.3 29.2 71.1 33.1 70.6 34.8 70.9 35.8 71.6 36.5 73.5 36 75.5 34.6 78.2 32.3 80.8 29.8 82.9 26.5 84.6 23.8 85.4 21.2 85.5Z"/><path fill="#00a4ff" d="M0 106 106 106 106 0 0 0 0 106ZM19.9 87.5 17.9 87.1 15.9 86.2 14.5 84.8 13.9 83.5 13.8 81.5 14.3 79.5 17.2 75.6 22.9 71.6 30.5 68.1 37.1 66.4 39.8 66.4 41.2 66.9 41.8 67.6 42.1 68.9 41.2 72.2 38.6 76.8 35.2 80.8 31.2 84.1 27.5 86.1 23.2 87.4 19.9 87.5Z"/><path fill="#00c4ff" d="M0 106 106 106 106 0 0 0 0 106ZM17.2 88.9 14.9 88.1 13 86.8 11.9 85.5 11.2 83.5 11.2 81.5 11.8 79.5 13.2 77.1 15.3 74.9 18.6 72.2 23.2 69.4 39 61.6 43.4 59 47.1 55.6 55 46.7 59 43.4 61 42.4 62.9 41.9 64.9 42.2 66.3 43.1 67.3 45 67.3 47.7 66.2 50.9 64.5 53.7 60.7 57.6 49.7 67 41 77.5 37.2 81.5 32 85.5 27.2 87.9 21.9 89.1 17.2 88.9Z"/><path fill="#00e4f8" d="M0 106 106 106 106 0 0 0 0 106ZM15.2 90.1 12.6 89.1 10.5 87.4 9.2 85.5 8.7 83.5 8.8 81.5 9.6 78.8 11.3 76.3 13.2 74.2 17.6 70.9 34 61 39.6 57 44.3 52.3 53.7 41.1 59 36.4 62.3 34.7 65.6 34.1 68.9 34.7 71.6 36.6 72.9 38.5 73.8 41.1 74 43.7 73.5 47 72.2 50.3 70.6 53 65.6 58.8 51.7 70 39.7 81.5 33.6 86.1 28.5 88.7 23.8 90.1 19.2 90.6 15.2 90.1Z"/><path fill="#16ffe1" d="M0 106 106 106 106 0 0 0 0 106ZM14.6 91.5 11.9 90.8 9.3 89.2 7.5 87.4 6.3 84.8 6.1 82.2 6.8 79.5 8.2 76.8 10.3 74.2 14.4 70.9 28.9 61.6 35.6 56.3 41.3 50.3 53 35.3 59 30 63.6 27.8 67.6 27.4 71.6 28.5 74.9 30.8 76.9 33.1 78.5 36.4 79.2 39.8 79 43.7 78 47.7 76.1 51.7 73.5 55.4 70.3 59 65 63.6 53 72.4 40.7 82.8 35.1 86.8 29.7 89.4 24.5 91 19.2 91.8 14.6 91.5Z"/><path fill="#30ffc7" d="M0 106 106 106 106 0 0 0 0 106ZM13.9 92.8 10.6 92.1 7.3 90.4 5.3 88.5 4.1 86.1 3.6 82.8 4.2 79.5 5.7 76.2 7.8 73.5 11.8 70.2 24.6 62.3 31.5 56.3 38.3 48.4 51 30.4 55 26 58.3 23.2 62.9 20.8 65.6 20.2 68.2 20.2 70.9 20.7 73.5 21.8 78.2 25.1 81 28.5 83.1 32.5 84.2 36.4 84.3 41.1 83.4 45.7 81.5 50.3 78.5 55 75.1 59 66.9 66 53.7 75 41.6 84.1 36.5 87.4 30.8 90.1 24.5 92 18.6 92.9 13.9 92.8Z"/><path fill="#49ffad" d="M0 106 106 106 106 0 0 0 0 106ZM14.6 94.1 10.6 93.7 7.3 92.7 4.1 90.8 2.7 88.8 1.8 84.8 2 79.5 3 75.5 4.6 72.7 6.6 70.7 9.2 68.9 21.3 62.3 27.4 57 32.9 49.7 48.1 24.5 52.3 19.2 57 14.8 62.3 11.8 64.9 11.1 67.6 10.9 72.9 12.1 78.8 15.8 83.5 20.3 86.8 25 89.1 29.8 90.2 35.1 90.2 39.8 89.1 45 86.7 50.3 83.1 55.6 77.4 61.6 70.9 66.9 39 87.4 33.4 90.1 27.4 92.1 20.5 93.6 14.6 94.1Z"/><path fill="#63ff94" d="M0 106 106 106 106 0 78.4 0 85.5 6.7 92.7 15.9 96.8 23.2 98.9 30.5 99.2 34.4 99 37.8 97.2 44.4 93.5 51 87.8 57.6 81.1 63.6 72.9 69.6 40.3 88.1 34.1 90.8 26.5 93.1 18.6 94.8 12.6 95.2 8.6 94.9 4.6 93.9 2.4 92.8 1.3 91.2 0.7 87 0.6 79.5 1.1 73.5 2 70.2 3.3 68.2 5.3 66.7 15.2 63.1 19.2 61.1 22.5 58.6 25.3 55.6 27.5 52.3 29.5 48.4 35.8 30.4 41.6 18.5 45.6 11.9 49 7.1 52.4 3.3 56.3 0 0 0 0 106Z"/><path fill="#7dff7a" d="M0.6 105.3 4 105.8 27.8 105.9 106 105.5 106 56 101.4 57.5 96.1 60 78 70.9 70.7 74.9 38.4 90.1 27.9 93.4 17.2 95.8 10.6 96.5 1.3 96.4 0.7 97.3 0.4 99.4 0.6 105.3ZM10.3 60.3 13.2 60.3 15.9 59.7 18.6 58.5 20.5 57 22.5 54.9 24.2 52.3 25.7 49 26.6 45.7 27.1 41.7 27 37.8 26.5 34 25.5 30.5 24.3 27.8 22.5 25.2 20.5 23.4 17.9 22.3 15.9 22.1 13.2 22.6 10.6 24.2 8.8 25.8 5.3 31.1 3.3 37.8 2.5 47 2.7 51 3.4 54.3 4.2 56.3 5.9 58.3 8 59.6 10.3 60.3Z"/><path fill="#94ff63" d="M8 105.3 37.8 105.8 74.9 105.4 96.1 104 104.7 102.2 106 101.7 106 70.2 102.7 69.3 99.4 69 96.1 69.2 92.1 70 37.1 91.4 18.5 96.4 4 98.9 2.7 99.6 2 100.4 1.5 102.7 1.8 104 3.3 104.9 8 105.3ZM12.5 55 15.2 55.6 17.2 55.1 18.6 54.2 20.8 51.7 22.4 47.7 22.7 43.1 21.9 39 19.9 35.8 17.2 34.3 14.6 34.7 12.6 36.3 10.7 39.1 9.6 42.4 9.1 46.4 9.5 50.3 10.6 53 12.5 55Z"/><path fill="#adff49" d="M17.7 105.3 42.4 105.7 67.9 105.3 80.8 104.4 90.8 102.7 95 101.4 99.2 99.4 102.2 97.4 104.8 94.7 106 92.8 106 82.6 104.6 80.8 102 78.8 99.4 77.6 96.1 76.9 89.4 77 79.5 79.1 60.3 84.4 37.4 92.1 12.8 98.7 6.8 100.7 5.3 101.7 4.9 102.7 5.2 103.4 6.3 104 9.4 104.7 17.7 105.3Z"/><path fill="#c7ff30" d="M25 105.3 62.3 105.3 72.9 104.6 82.2 103.2 90.1 100.7 95.8 97.4 97.8 95.4 99.1 93.4 99.8 91.4 99.8 88.8 98.7 86.1 96.7 84.1 94.1 82.8 90.1 81.9 86.1 81.7 80.8 82.1 66.2 84.6 56.3 87.1 39.8 92.1 22.5 96.7 13 100 10 102 9.9 102.7 10.3 103.4 11.3 103.8 15.2 104.7 25 105.3Z"/><path fill="#e1ff16" d="M35.3 105.3 64.3 104.9 73.4 104 79.5 102.8 86.1 100.5 91.3 97.4 94 94.1 94.4 92.8 94.3 90.8 92.9 88.1 90.8 86.5 87.4 85.3 83.5 84.7 78.2 84.7 71.6 85.4 55.6 88.4 23.2 97.2 17.2 99.4 14 101.4 13.5 102.7 14.1 103.4 17.2 104.3 23.8 105 35.3 105.3Z"/><path fill="#f8f500" d="M23.6 104.7 36.4 105.1 54.3 105 64.9 104.5 73.6 103.4 80.7 101.4 86 98.7 89.5 95.4 90.2 93.4 90.1 92.1 89.1 90.1 87.4 88.8 84.8 87.6 81.5 86.9 72.2 86.8 60.3 88.4 30.5 95.7 20.9 98.7 17.3 100.7 16.2 102 16.4 102.7 17.1 103.4 19 104 23.6 104.7Z"/><path fill="#ffd700" d="M28 104.7 54.3 104.8 63.6 104.3 70.5 103.4 76.8 101.7 82.1 99.4 85.5 96.7 86.6 94.7 86.8 93.4 85.8 91.4 84.2 90.1 81.5 89 78.2 88.4 68.9 88.3 57.6 89.8 31 96.1 25.2 97.8 21.4 99.4 18.8 101.4 18.8 102.7 22 104 28 104.7Z"/><path fill="#ffb900" d="M33.9 104.7 55 104.6 62.9 104 69.6 103 75.3 101.4 79.6 99.4 82.8 96.7 83.6 95.4 83.8 94.1 82.8 92.2 80.8 90.9 78.2 90 74.2 89.4 64.3 89.7 51.7 91.8 30.5 96.7 25.2 98.5 22.1 100 20.7 101.4 20.6 102 21 102.7 22.2 103.4 25.8 104.1 33.9 104.7Z"/><path fill="#ff9c00" d="M28.3 104 37.1 104.5 49 104.5 59 104 65.6 103.2 71.6 101.8 76.9 99.6 79.9 97.4 80.8 96.1 81.1 94.7 80.6 93.4 79 92.1 76.9 91.2 73.5 90.6 65.6 90.5 55.6 91.7 35.1 96.1 26.4 98.7 23 100.7 22.6 102 23.2 102.7 24.7 103.4 28.3 104Z"/><path fill="#ff8200" d="M32.5 104 52.3 104.2 59.6 103.6 65.9 102.7 70.8 101.4 75.2 99.4 78.2 96.7 78.5 94.7 77.5 93.4 75.5 92.4 69.6 91.3 61 91.6 50.4 93.4 32.2 97.4 28.2 98.7 25.6 100 24.5 101.4 24.6 102 25.4 102.7 27.3 103.4 32.5 104Z"/><path fill="#ff6400" d="M40.2 104 55.6 103.6 66.2 102 70.4 100.7 74.1 98.7 76 96.7 76.1 95.4 75.2 94.1 72.3 92.8 68.9 92.2 64.3 92.1 53.7 93.3 36.4 96.9 28.5 99.4 26.7 100.7 26.4 101.4 26.6 102 27.7 102.7 30.4 103.4 40.2 104Z"/><path fill="#ff4700" d="M34.4 103.4 49 103.7 61 102.6 66.4 101.4 69.9 100 72.9 98.1 73.9 96.1 73.1 94.7 72 94.1 66.9 93 59.6 93.2 51 94.4 36.8 97.4 30.5 99.4 28.6 100.7 28.4 101.4 28.8 102 30.4 102.7 34.4 103.4Z"/><path fill="#ff2900" d="M42.1 103.4 53.7 103.1 62.9 101.7 69.1 99.4 71.3 97.4 71.4 96.1 69.9 94.7 67.6 94.1 60.3 93.8 51 95 36.7 98.1 31.4 100 30.7 100.7 30.7 101.4 31.4 102 33.7 102.7 42.1 103.4Z"/><path fill="#fa0f00" d="M38.6 102.7 49.7 102.9 59 102 64 100.7 67 99.4 68.6 98.1 69.1 96.7 67.6 95.4 62.9 94.6 57 94.8 48.7 96.1 39.5 98.1 33.9 100 33.2 100.7 33.8 101.6 38.6 102.7Z"/><path fill="#d60000" d="M39.3 102 48.4 102.4 57.6 101.6 63.3 100 65.7 98.7 66.5 97.4 66.2 96.7 65.2 96.1 62.3 95.5 57.6 95.5 51.7 96.2 42.6 98.1 38.1 99.4 36.3 100.7 36.8 101.4 39.3 102Z"/><path fill="#b20000" d="M41.9 101.4 47.7 101.8 54.9 101.4 60.5 100 62 99.4 63.4 98.1 62.9 97.1 61 96.5 57.6 96.3 53 96.8 46.2 98.1 41.8 99.4 40.5 100 40.3 100.7 41.9 101.4Z"/><path fill="#8d0000" d="M47.1 100.7 53.7 100.6 56.6 100 59.3 98.7 59.1 98.1 57 97.6 51.3 98.1 46.5 99.4 45.7 100 47.1 100.7Z"/></g><g transform="translate(385.2 180.3) scale(1.00000 1.00000)"><rect width="106" height="106" fill="#0028ff"/><path fill="#0048ff" d="M0 106 106 106 106 0 0 0 0 106ZM38.4 74.2 36.4 73.1 35.8 70.9 36.6 68.2 38.4 65.7 41.1 63.5 43.7 62.2 46.4 61.9 48.7 62.9 49.4 64.3 49.5 66.2 48.7 68.2 47.3 70.2 45.1 72.2 43.1 73.4 40.4 74.2 38.4 74.2Z"/><path fill="#0068ff" d="M0 106 106 106 106 0 0 0 0 106ZM35.8 77.6 32.9 76.2 32.1 74.9 31.7 72.9 32.8 68.9 35.8 64.5 39.8 61.1 44.4 58.9 48.4 58.5 50.3 59 51.7 59.8 53.2 62.3 53.3 64.9 52.2 68.2 49.8 71.6 46.8 74.2 43.1 76.4 39.1 77.6 35.8 77.6Z"/><path fill="#0084ff" d="M0 106 106 106 106 0 0 0 0 106ZM33.1 80.3 31 79.5 29.4 78.2 28.5 76.2 28.3 74.2 28.8 71.6 29.9 68.9 32 65.6 34.3 62.9 39.1 59 45.1 56.3 47.7 55.8 50.4 55.8 52.3 56.3 54.6 57.6 56.3 60.3 56.4 64.3 55 68.2 51.7 72.6 47.5 76.2 42.4 78.9 37.8 80.2 33.1 80.3Z"/><path fill="#00a4ff" d="M0 106 106 106 106 0 0 0 0 106ZM32.5 82.8 29.2 82.3 27.2 81.2 25.7 79.5 25 76.8 25.3 73.5 26.5 70.2 28.9 66.2 31.5 62.9 34.4 60 37.8 57.5 41.1 55.6 45.1 54.1 48.4 53.4 51.7 53.4 55 54.2 57.2 55.6 58.4 57 59.3 59 59.5 62.9 57.9 67.6 54.1 72.9 49.7 76.8 44 80.2 38.4 82.2 32.5 82.8Z"/><path fill="#00c4ff" d="M0 106 106 106 106 0 0 0 0 106ZM27.2 84.8 24.5 83.8 22.5 82.1 21.5 79.5 21.6 76.2 22.8 72.2 25.3 67.6 28.2 63.6 32 59.6 35.8 56.6 39.8 54.1 43.7 52.4 47.7 51.3 51.7 50.9 55 51.3 57.8 52.3 60.5 54.3 61.8 56.3 62.5 58.3 62.7 61 62.2 63.6 61.3 66.2 59.4 69.6 54.3 75.3 48.4 79.7 41.1 83.1 33.8 84.9 30.5 85.1 27.2 84.8Z"/><path fill="#00e4f8" d="M0 106 106 106 106 0 0 0 0 106ZM22.5 86.8 19.6 85.5 18 83.5 17.4 80.2 18.1 76.2 20.1 71.6 23.4 66.2 27.2 61.6 32.1 57 36.4 53.9 41.1 51.4 45.7 49.6 49.7 48.8 54.3 48.6 58.3 49.4 61.6 50.9 63.9 53 65.4 55.6 66 58.3 65.9 61 65 64.3 63.4 67.6 61.2 70.9 55.3 76.8 47.7 81.8 39.1 85.3 29.8 87.2 25.8 87.3 22.5 86.8Z"/><path fill="#16ffe1" d="M0 106 106 106 106 0 0 0 0 106ZM16.6 88.8 13.9 87.2 13.2 86.1 12.6 84.1 12.9 80.2 14.5 75.5 17.9 69.6 22.4 63.6 27.4 58.3 32.5 54.2 37.1 51.2 42.4 48.6 47.7 46.9 52.3 46.2 57 46.2 61.6 47.3 65 49 67.8 51.7 69.2 54.3 69.9 57.6 69.5 61 68.4 64.3 66.7 67.6 63.7 71.6 59.8 75.5 55.6 78.8 51.5 81.5 46.4 84.1 36.5 87.4 30.5 88.7 25.2 89.3 20.5 89.4 16.6 88.8Z"/><path fill="#30ffc7" d="M0 106 106 106 106 0 0 0 0 106ZM9.9 91.5 8.2 90.8 7.3 89.9 6.7 88.8 6.3 86.8 7 82.2 9.6 76.2 14.4 68.9 19.9 62.3 26.1 56.3 32.5 51.5 38.4 48 44.4 45.6 50.4 44 55.6 43.5 61 43.8 65.6 45.1 69.6 47.2 72.7 50.3 74.2 53.7 74.7 57 74.2 60.3 72.7 64.3 70.1 68.2 66.7 72.2 62.4 76.2 57.9 79.5 47.9 84.8 42.8 86.8 36 88.8 29.2 90.2 19.2 91.4 13.2 91.8 9.9 91.5Z"/><path fill="#49ffad" d="M0 106 106 106 106 0 0 0 0 106ZM3.3 94.9 2.7 94 2.1 91.4 2.2 84.1 3.3 78.1 5.3 74 10.8 66.9 17.9 59.6 24.9 53.7 31.8 48.9 38.4 45.4 45.7 42.6 53 40.9 59.6 40.4 66 41.1 71.6 42.7 76.2 45.4 79.5 49 81 52.3 81.4 55.6 80.8 59.6 79 63.6 76.2 67.6 72.3 71.6 67.5 75.5 61.6 79.5 55.6 82.8 49.6 85.5 37.8 89.3 7.3 95.2 4.6 95.4 3.3 94.9ZM98.1 98.8 96.4 98.1 95.3 96.7 95.6 94.7 97 93.4 98.7 92.8 101.4 92.7 103.7 93.4 105 94.7 105 96.7 103.6 98.1 100.7 99 98.1 98.8Z"/><path fill="#63ff94" d="M0 106 106 106 106 103.1 102 103.6 98.1 103.6 94.7 103.1 92.1 102.1 90 100 89.2 96.7 89.6 94.7 90.8 92.4 92.3 90.8 94.7 89.2 100 87.8 106 88.3 106 0 0 0 0 106ZM2 99.6 1.3 98.7 0.7 95.4 0.6 82.8 1.3 72.5 2.7 67.7 5.1 64.3 10.4 59.6 18.3 53.7 26.6 48.4 36.4 43.2 45.7 39.6 55 37.4 63.6 36.6 72.9 37.2 80.8 39.3 86.6 42.4 88.9 44.4 90.9 47 92.3 50.3 92.8 53.7 92.3 57.6 91.1 61 89.1 64.3 86.1 67.6 83 70.2 78 73.5 64 80.8 49.5 86.8 36.4 90.6 15.2 94.9 9.8 96.7 3.3 99.5 2 99.6Z"/><path fill="#7dff7a" d="M6.5 105.3 15.9 105.9 56.3 105.9 73.5 105.6 80.8 104.9 82.7 104 83.5 102.9 86.1 92.1 88.1 88.1 91.3 83.5 91.9 81.5 90.7 80.2 86.8 79.4 81.5 79.5 75.5 80.3 66.9 82.4 41.7 90.1 17.9 95.2 11.3 97.7 6.7 100.7 5 103.4 5.3 104.7 6.5 105.3ZM4.2 49.7 9.3 49.2 15.9 47.3 39.1 38.3 49.7 34.8 60.3 32.2 80.8 28.3 86.1 26.8 90.2 25.2 92.6 23.8 95 21.9 96.5 19.9 97.4 17.9 97.9 15.2 97.8 12.6 96 6.6 92 0 0.6 0 0.4 23.8 0.8 41.1 1.3 46.3 2 48.3 2.7 49.1 4.2 49.7Z"/><path fill="#94ff63" d="M13.2 105.3 26.5 105.8 54.3 105.6 65.6 105.1 72.9 104 76.9 102.4 79.7 99.4 80.9 96.7 81.5 94.1 81.8 90.8 81.5 88.8 80.2 86.6 77.5 85.2 73.5 84.6 68.2 84.8 61 86 39.4 91.4 21.9 95 14.5 97.4 12 98.7 9.5 100.7 8.5 102.7 8.9 104 10 104.7 13.2 105.3ZM18.2 35.8 21.9 36.2 25.8 36 35.1 34 53.4 27.8 63.1 23.2 65.8 21.2 68.6 18.5 70.6 15.9 72.5 12.6 73.7 9.3 74.4 6 74.5 2.6 74 0 8.6 0 6.8 5.3 5.1 14.6 4.7 20.5 5.3 25.2 6.7 28.5 9.6 31.8 13.9 34.4 18.2 35.8Z"/><path fill="#adff49" d="M18.5 105.3 51 105.4 60.3 104.9 66.8 104 71.6 102.5 75.1 100 77.3 96.7 77.7 94.7 77.7 92.8 76.4 90.1 74.2 88.4 70.2 87.4 65.6 87.2 56.3 88.4 24.5 95 19.9 96.2 15.9 97.7 13.1 99.4 11.2 101.4 10.9 102.7 11.8 104 13.9 104.8 18.5 105.3ZM32.9 22.5 38.4 22.7 45.1 21.4 52.3 18.8 58.3 15.6 62.9 12 66.2 7.9 67.7 4 67.7 0 15.9 0 15.4 3.3 15.8 6.6 17 9.9 19.2 13.4 22.5 17.1 25.8 19.7 29.2 21.5 32.9 22.5Z"/><path fill="#c7ff30" d="M24.8 105.3 49.7 105.2 57.9 104.7 63.6 103.8 68.2 102.2 71.7 100 73.7 97.4 74.3 95.4 74.2 94.1 72.9 91.7 70.4 90.1 66.9 89.2 62.3 89 53 90 24.5 95.6 19.9 96.9 16.6 98.4 14.1 100 12.8 102 13.3 103.4 15.9 104.6 24.8 105.3ZM36.3 15.2 41.1 15.6 46.4 15 51.7 13.6 55.6 11.8 59.3 9.3 61.7 6.6 63.2 3.3 63.3 0 20.6 0 20.4 2 20.8 4.6 22 7.3 23.8 9.5 26.5 11.6 29.2 13.1 32.5 14.4 36.3 15.2Z"/><path fill="#e1ff16" d="M19.4 104.7 27.8 105.2 41.7 105.2 52.3 104.8 58.8 104 64 102.7 67.9 100.7 70.5 98.1 71.2 95.4 70.4 93.4 68.9 92.2 64.3 90.6 57.6 90.4 47.7 91.7 25.8 95.9 18.9 98.1 15.7 100 14.5 102 14.7 102.7 15.9 103.8 19.4 104.7ZM37.8 11.9 41.7 12.2 46.4 11.8 50.4 10.7 53.7 9.3 56.3 7.5 58.3 5.3 59.6 2.6 59.6 0 24.5 0 24.3 2 24.8 4 27.2 7.3 31.8 10.3 37.8 11.9Z"/><path fill="#f8f500" d="M22.8 104.7 43.1 104.9 50.4 104.6 57 103.7 61.2 102.7 65.3 100.7 67.5 98.7 68.2 97.4 68.4 96.1 67.5 94.1 65.5 92.8 62.3 91.8 58.3 91.5 48.4 92.3 29.8 95.6 21.2 97.9 18.1 99.4 16.6 100.7 16.2 102 17.1 103.4 18.7 104 22.8 104.7ZM38.1 9.3 41.7 9.6 45.1 9.4 51 7.6 53.5 6 55.3 4 56.1 2 56.2 0 28.1 0 28 2 28.4 3.3 30.4 6 33.8 8 38.1 9.3Z"/><path fill="#ffd700" d="M27.8 104.7 44.4 104.6 56.1 103.4 60.5 102 63.9 100 65.6 98.1 65.8 96.1 64.9 94.7 62.3 93.3 59 92.6 55 92.5 45.7 93.4 27.2 96.7 22.5 98 19.9 99.3 18.1 100.7 17.7 102 18.9 103.4 21 104 27.8 104.7ZM37.9 6.6 43.1 7.1 48.4 5.9 50.4 4.6 51.7 3.3 52.4 2 52.5 0 31.8 0 31.8 2 33 4 35.1 5.6 37.9 6.6Z"/><path fill="#ffb900" d="M23.8 104 30.5 104.5 39.8 104.5 47.7 104.1 53.4 103.4 58.2 102 60.9 100.7 63 98.7 63.5 96.7 62.6 95.4 61 94.4 58.3 93.7 55 93.3 46.4 93.9 33.1 96.1 24.5 98 20.3 100 19.3 101.4 19.7 102.7 20.9 103.4 23.8 104ZM39.9 4 43.1 4.2 46.1 3.3 47.6 2 47.9 0 36.5 0 36.4 1.3 37.1 2.5 39.9 4Z"/><path fill="#ff9c00" d="M27.6 104 41.7 104.1 51.7 103.1 55.9 102 58.8 100.7 60.4 99.4 61.2 97.4 60.5 96.1 59 95.1 56.3 94.4 53 94.1 44.4 94.7 31.1 97 24.4 98.7 21.2 100.7 20.9 102 21.6 102.7 23.2 103.4 27.6 104Z"/><path fill="#ff8200" d="M25.9 103.4 38.4 103.9 50.4 102.9 53.7 102 56.7 100.7 58.4 99.4 59 98.1 58.9 97.4 57.6 96.1 56.3 95.6 51.7 94.9 45.1 95.3 35.4 96.7 27.8 98.3 23.6 100 22.5 101.4 22.7 102 23.6 102.7 25.9 103.4Z"/><path fill="#ff6400" d="M30.2 103.4 40.4 103.5 48.4 102.7 51.2 102 54.6 100.7 56.2 99.4 56.7 98.1 55.6 96.8 54.3 96.2 49.7 95.7 43.1 96.1 32.5 97.9 26.8 99.4 25.2 100.3 24.4 101.4 24.7 102 26.1 102.7 30.2 103.4Z"/><path fill="#ff4700" d="M29.6 102.7 37.8 103.1 45.7 102.5 49 101.9 52.3 100.7 53.4 100 54.3 98.7 53.4 97.4 49.7 96.5 45.1 96.6 38.3 97.4 31.6 98.7 27.7 100 26.8 100.7 26.6 101.4 27.3 102 29.6 102.7Z"/><path fill="#ff2900" d="M31 102 37.8 102.5 44.9 102 49.7 100.7 51.4 99.4 51.5 98.7 50.4 97.9 47.7 97.3 43.7 97.4 38.5 98.1 30.6 100 29.6 100.7 29.6 101.4 31 102Z"/><path fill="#fa0f00" d="M34.4 101.4 38.4 101.7 43.7 101.4 46.3 100.7 47.6 100 48 99.4 47.2 98.7 45.7 98.4 40.1 98.7 34.5 100 33.6 100.7 34.4 101.4Z"/></g><g transform="translate(24.75 300.3) scale(1.00000 1.00000)"><rect width="106" height="106" fill="#63ff94"/></g><g transform="translate(144.9 300.3) scale(1.00000 1.00000)"><rect width="106" height="106" fill="#0048ff"/><path fill="#0068ff" d="M0 106 106 106 106 0 0 0 0 106ZM27.8 85 26.5 84 25.8 81.6 26.1 78.8 27.1 75.5 28.5 73 30.5 70.8 32.5 69.6 34.4 69.6 35.5 70.9 35.9 72.9 35.7 75.5 34.6 78.8 33.1 81.5 31.1 83.7 29.2 84.9 27.8 85Z"/><path fill="#0084ff" d="M0 106 106 106 106 0 0 0 0 106ZM25.8 89 24.7 88.1 24 86.8 23.4 82.8 24 78.2 25.8 72.8 28.5 68.5 31.8 65.2 35.1 63.6 36.4 63.5 37.8 63.9 39.1 65.6 39.7 69.6 39.1 74.2 37.1 79.7 34.4 84.2 31.5 87.4 28.5 89.1 25.8 89Z"/><path fill="#00a4ff" d="M0 106 106 106 106 0 0 0 0 106ZM24.5 92.2 23.2 91 22.4 89.4 21.7 84.1 22.6 77.5 25.2 70.2 28.5 64.9 33.1 60.3 37.8 57.9 39.8 57.7 41.1 58.1 42.4 59.5 42.9 61 43.2 66.2 41.8 73.5 39.1 80.5 35.7 86.1 31.8 90.4 27.8 92.5 25.8 92.7 24.5 92.2Z"/><path fill="#00c4ff" d="M0 106 106 106 106 0 0 0 0 106ZM24.5 95.6 22.5 94.4 21.2 92.4 20.4 89.4 20.2 86.1 20.5 81.8 21.5 76.8 24.5 67.9 28.5 61.4 34.4 55.2 40.4 51.4 43.1 50.6 45.1 50.9 46.4 52.1 47 53.7 47.4 56.3 47.2 60.3 45.2 70.2 41.8 79.5 37.8 86.7 33.2 92.1 31.1 93.8 28.5 95.2 26.5 95.7 24.5 95.6Z"/><path fill="#00e4f8" d="M0 106 106 106 106 0 0 0 0 106ZM25.2 98.7 22.5 98.1 20.6 96.1 19.5 93.4 19 89.4 19.2 84.1 20.1 78.2 21.9 71.2 23.8 65.9 26.5 60.7 29.2 56.8 36.4 49 41.1 45.1 45.1 42.6 47.7 41.6 50.4 41.7 51.7 42.7 52.6 45 52.9 48.4 52.4 52.3 49.2 65.6 44.6 78.2 40.1 86.8 35.1 93.2 32.5 95.7 29.8 97.4 27.2 98.5 25.2 98.7Z"/><path fill="#16ffe1" d="M0 106 106 106 106 0 0 0 0 106ZM23.2 101.4 20.5 100.2 19 98.1 18 94.1 17.8 88.8 18.5 81.5 19.9 74.6 21.9 67.4 24.5 60.7 27.2 55.7 31.1 50.1 36.4 44.1 42.4 38.2 46.4 34.8 50.4 32.3 53.7 31.2 56.3 31.5 58.2 33.1 59.2 35.8 59.4 39.8 58.6 45 56.9 51.7 53.8 61 49.5 72.2 46.1 80.2 40.4 90.1 37.3 94.1 34.4 97.1 31.8 99.2 28.9 100.7 25.8 101.5 23.2 101.4Z"/><path fill="#30ffc7" d="M0 106 106 106 106 0 0 0 0 106ZM21.9 103.5 19.2 102.5 17.5 100 16.7 95.4 16.8 88.8 18.1 78.8 20.5 68 23.2 59.7 25.8 53.6 29.2 48 33.8 41.9 41.7 32.8 47.7 26.9 52.3 23.3 56.3 21.3 60.3 20.5 62.9 21.1 65.1 23.2 66.3 27.2 66.4 32.5 65.2 39.1 63.2 45.7 60.2 53.7 48 81.5 44.8 87.4 41.4 92.8 38.3 96.7 35 100 32.1 102 29.2 103.1 25.2 103.6 21.9 103.5Z"/><path fill="#49ffad" d="M0 106 106 106 106 0 0 0 0 106ZM20.5 104.7 17.6 104 16.6 103.3 15.8 102 15.3 97.4 15.7 90.1 17.6 77.5 20.5 63.8 23.2 54.6 26.5 46.7 31 39.8 41.7 26 47 19.8 51.7 15.3 57 11.4 62.3 8.9 66.9 8.1 70.2 9 71.6 9.9 73.2 11.9 74.2 14.4 74.8 17.2 74.7 23.8 73.1 31.8 70.7 39.1 67.4 47 49.4 84.8 42.6 96.1 39.4 100 37.1 102.2 34.4 103.6 31.1 104.4 25.8 104.8 20.5 104.7Z"/><path fill="#63ff94" d="M0 106 106 106 106 0 86.6 0 87.3 6 86.8 13.2 85.2 20.5 82.5 28.5 77.1 39.8 61.6 67.4 46.9 96.7 43.3 102 40.4 104.1 34.4 105.3 23.8 105.6 17.9 105.4 15.2 105 14 104 13.6 102 14.1 94.7 15.9 82.8 20.5 58.4 22.9 48.4 24.5 43.8 26.5 39.8 35.6 26.5 44.4 12 49 6 55.2 0 0 0 0 106Z"/><path fill="#7dff7a" d="M1.9 105.3 6 105.6 9.3 105.2 10.6 104.1 11.3 102.3 17 72.9 21.9 41.7 24.1 35.8 31.4 23.2 33.9 15.9 34.3 11.3 33.9 6.6 32.5 2.9 30.4 0 1 0 0.5 6 0.2 18.5 0.1 90.8 0.5 103.4 0.9 104.7 1.9 105.3ZM57.5 105.3 80.2 105.6 94.1 104.9 97.4 104.3 99.7 103.4 101.4 102 103.6 99.4 106 95.7 106 37.1 102.7 36.1 98.7 36.1 94.7 37.3 90.8 39.3 86.1 42.8 81.5 47.1 76.2 53.2 71.6 59.3 66.2 67.4 61.6 76.2 57.3 86.1 53.6 96.7 52.4 101.4 52.3 103.4 53.6 104.7 57.5 105.3Z"/><path fill="#94ff63" d="M4.6 103.4 7.3 103 9.3 101 10.9 97.4 12.6 91.5 15.3 78.2 17.4 64.9 19.5 37.1 21.1 31.8 24.8 23.2 25.8 18.5 25.7 15.9 25.2 13.7 23.9 11.3 22.5 9.6 20.5 8 17.9 6.7 12.6 5.4 9.9 5.4 7.3 6 5.3 6.9 4 8.1 2.2 11.9 1.3 17.8 0.3 48.4 0.5 90.1 0.9 96.1 1.6 100 2.7 102.3 4.6 103.4ZM70.8 103.4 79.5 103.4 83.5 102.6 86.8 101.3 90.1 99.1 93.3 96.1 96 92.8 98.4 88.8 100.3 84.1 101.7 78.8 102.3 72.9 102.2 67.6 101.4 62.9 100 59.6 98.1 56.9 95.4 55.1 92.1 54.2 88.8 54.4 85.5 55.5 81.5 57.8 77.5 61 73.5 65.1 70 69.6 66.9 74.9 64.6 80.2 63 85.5 62.3 90.8 62.4 95.4 63.2 98.7 64.9 101.3 67.5 102.7 70.8 103.4Z"/><path fill="#adff49" d="M5.2 100 6.6 99.8 8.6 98.1 10.4 94.7 11.9 90.3 15.1 75.5 17 60.3 17.2 51.7 16.4 35.1 17.7 23.2 17.6 20.5 16.8 17.9 15.3 15.9 13.2 14.7 10.6 14.1 8.6 14.3 6.6 15.2 5.3 16.3 3.8 18.5 2.7 22.2 2 26 1 36.4 0.4 59.6 0.7 87.4 1.3 93.7 2 96.5 3.3 99 5.2 100ZM75.5 98.1 78.2 98.4 80.8 98.2 84.1 97.2 86.8 95.9 91.4 91.9 93.3 89.4 95 86.1 96.6 80.2 96.7 76.8 96.3 73.5 95.4 70.7 94.1 68.2 92.1 66 90.1 64.8 87.4 64.1 84.8 64.2 81.5 65.2 78.8 66.7 76.2 68.7 73.5 71.4 71.5 74.2 69.7 77.5 68.5 80.8 67.8 84.1 67.7 87.4 68.2 90.8 69.3 93.4 70.9 95.5 72.9 97 75.5 98.1Z"/><path fill="#c7ff30" d="M4.5 96.7 6 97 8 95.8 9.9 92.8 11.3 89.4 14.4 76.2 16.1 61.6 15.7 49 13.1 33.8 11.9 29.2 10.8 26.5 9.3 24.8 8 24.4 6.6 24.7 5.3 25.7 3.3 29.2 1.8 35.8 0.8 47.7 0.5 69.6 1 86.1 2 92.8 3.3 95.7 4.5 96.7ZM77.8 94.1 82.2 94.1 86.1 92.5 89.7 89.4 92.1 85.5 93.2 80.8 92.8 75.9 90.8 72.1 89.4 70.9 87.4 69.8 83.5 69.4 81.5 69.9 78.8 71.2 75.3 74.2 72.5 78.8 71.3 84.1 72 88.8 74.2 92.2 76 93.4 77.8 94.1Z"/><path fill="#e1ff16" d="M4.6 94.1 6 94.3 8 93.2 9.9 90.1 11.3 86.7 14 74.9 15.3 62.3 14.8 51.7 12.8 41.7 9.9 34.6 8.6 32.9 6.6 32 4.6 33 2.7 37 1.3 45.3 0.9 54.3 0.7 71.6 1.3 85.3 2.7 91.6 3.3 92.9 4.6 94.1ZM78.8 90.8 81.5 91.1 84.8 90.1 87.4 88 89.5 84.8 90.4 81.5 90.1 78.2 88.8 75.5 86.1 73.5 83.5 73.1 80.2 74 77.4 76.2 75.2 79.5 74.3 82.8 74.6 86.1 76.2 89.1 78.8 90.8Z"/><path fill="#f8f500" d="M4.3 91.4 6 92 7.3 91.4 9.3 89 10.6 86.1 13.2 76.2 14.4 64.9 14.2 55 12.6 46.3 9.9 39.7 8.6 38 6.6 36.8 4.6 37.4 3.3 39.4 2.7 41.3 1.7 46.4 1.2 53.7 0.9 68.2 1.3 81.3 2.4 88.1 3.3 90.3 4.3 91.4ZM80 87.4 81.5 87.7 83.5 87.3 85.5 86 86.7 84.1 87.3 82.2 87.3 80.2 86.3 78.2 84.8 77 82.8 76.7 80.8 77.3 79.5 78.3 78.1 80.2 77.5 82.2 77.5 84.4 78.3 86.1 80 87.4Z"/><path fill="#ffd700" d="M4.6 89.4 6 89.9 7.3 89.3 8.9 87.4 10.4 84.1 12.6 75.5 13.8 64.9 13.5 56.3 11.9 48.4 9.3 42.5 7.3 40.6 6 40.3 4.6 40.9 4 41.7 2.7 44.8 1.8 50.3 1.2 59 1.2 71.6 1.7 80.8 2.7 86.2 3.3 87.9 4.6 89.4Z"/><path fill="#ffb900" d="M4.8 87.4 6 87.8 7.3 87.3 8.6 85.7 9.9 83.1 12 75.5 13.1 65.6 12.8 57.6 11.3 50.3 9.9 46.9 8.6 44.8 7.3 43.6 6 43.3 4.6 43.9 4 44.7 2.7 48.1 1.9 53 1.4 61.6 1.4 71.6 2 80.1 3.3 85.5 4.8 87.4Z"/><path fill="#ff9c00" d="M4.9 85.5 6 85.8 7.3 85.3 8.6 83.7 9.9 80.8 11.6 74.2 12.4 66.2 12.1 59 10.8 52.3 8.6 47.7 7.3 46.4 6 46 4.6 46.6 4 47.5 2.9 50.3 2 56.3 1.7 62.3 1.7 70.9 2.2 78.2 3.3 83.2 4.9 85.5Z"/><path fill="#ff8200" d="M5 83.5 6 83.8 7.3 83.2 9.3 80.1 11 73.5 11.7 66.2 11.4 59.6 10.1 53.7 8 49.6 6 48.5 4.6 49.3 3.3 51.9 2.5 55.6 2 62.9 2 70.9 2.7 77.9 3.6 81.5 5 83.5Z"/><path fill="#ff6400" d="M5.2 81.5 6 81.8 7.3 81.2 9 78.2 10.4 72.9 11 66.9 10.8 61 9.8 56.3 8 52.2 7.3 51.5 6 51.1 4.6 51.9 3.3 55 2.3 64.3 2.9 75.5 4 79.9 5.2 81.5Z"/><path fill="#ff4700" d="M5.8 79.5 7.3 78.9 8.8 76.2 9.9 71.6 10.3 66.2 10 61.6 9.1 57.6 7.9 55 6.6 53.8 6 53.6 4.6 54.6 3.7 57 3 61 2.7 66.2 3.5 75.5 4.6 78.6 5.8 79.5Z"/><path fill="#ff2900" d="M5.5 76.8 6.6 76.9 8 75.2 9 71.6 9.4 67.6 9.3 63.6 8.6 60 7.3 57.1 6 56.4 4.6 57.7 4 59.6 3.3 65.6 3.9 73.5 4.6 75.8 5.5 76.8Z"/><path fill="#fa0f00" d="M5.4 73.5 6 74 6.6 73.8 7.3 72.9 8 70.9 8.4 67.6 7.8 62.3 7.3 60.8 6.6 60 6 59.8 5.3 60.4 4.6 61.9 4.1 65.6 4.3 70.2 5.4 73.5Z"/></g><g transform="translate(265.05 300.3) scale(1.00000 1.00000)"><rect width="106" height="106" fill="#0028ff"/><path fill="#0048ff" d="M0 106 106 106 106 0 0 0 0 106ZM27.8 85.6 27.2 85.4 26.2 84.1 26 82.2 26.5 79.8 28.5 76.6 29.8 75.6 31.1 75.4 31.8 75.7 32.5 76.8 32.6 78.8 32.1 80.8 30.3 84.1 29.2 85.1 27.8 85.6Z"/><path fill="#0068ff" d="M0 106 106 106 106 0 0 0 0 106ZM25.8 90.1 24.2 88.8 23.3 86.1 23.4 82.2 24.5 78 26.5 74.2 28.5 71.8 31.1 70.1 33.8 69.8 35.3 70.9 36.3 73.5 36.2 77.5 35.1 81.5 33.1 85.3 30.5 88.5 27.8 90.1 25.8 90.1Z"/><path fill="#0084ff" d="M0 106 106 106 106 0 0 0 0 106ZM25.2 93.5 23.8 92.9 22.6 91.4 21.6 87.4 21.9 82 23.7 75.5 26.5 70.6 29.8 67.2 33.1 65.4 35.1 65.1 36.4 65.3 38.4 67.2 39.3 70.9 38.9 76.2 37.4 81.5 35.1 86.1 31.8 90.4 28.5 92.9 26.5 93.5 25.2 93.5Z"/><path fill="#00a4ff" d="M0 106 106 106 106 0 0 0 0 106ZM23.8 96.1 22.5 95.3 21.2 93.5 20.5 91.4 20.2 88.1 20.9 80.8 23.2 73.2 26.5 67.4 30.5 63.3 35.1 60.7 37.1 60.2 39.1 60.5 40.4 61.3 41.5 62.9 42.2 65.6 42.3 68.2 41.5 74.9 39.2 82.2 35.8 88.6 31.8 93.3 27.8 95.9 25.8 96.4 23.8 96.1Z"/><path fill="#00c4ff" d="M0 106 106 106 106 0 0 0 0 106ZM23.2 98.8 21.2 97.4 20 95.4 19.2 92.4 19 88.8 20.1 79.5 21.2 75.2 23.1 70.2 26.5 64.3 31.8 58.7 37.8 54.9 40.4 54.1 42.6 54.3 44.2 55.6 45.1 57.3 45.6 60.3 45.6 64.3 44.1 73.5 40.9 82.8 37.1 89.8 32.5 95.3 27.8 98.4 25.2 99 23.2 98.8Z"/><path fill="#00e4f8" d="M0 106 106 106 106 0 0 0 0 106ZM23.8 101.4 21.4 100.7 19.9 99.3 18.6 96.4 17.9 92.1 18.1 86.8 19 80.2 20.5 73.9 22.5 68.3 24.5 64.2 27.2 60.1 30.5 56.1 34.4 52.2 39.1 48.4 42.4 46.3 45.7 45.1 47.7 45.5 49 46.7 49.9 49 50.2 52.3 50 57 47.5 69.6 43.5 81.5 39.1 90.1 33.9 96.7 29.2 100.3 26.5 101.2 23.8 101.4Z"/><path fill="#16ffe1" d="M0 106 106 106 106 0 0 0 0 106ZM21.2 102.9 19.2 101.8 17.8 99.4 17 95.4 17 90.1 17.7 82.8 19.2 75.4 21.2 68.4 23.2 63.3 25.8 58.3 29.2 53.4 41.1 39.8 44.4 36.8 47.7 34.6 50.4 33.7 53 34.2 55 36.3 55.9 39.1 56.2 43.7 55.7 49 54.1 56.3 51 66.9 47.8 76.2 44.8 83.5 39.1 93.4 36 97.4 33.3 100 30.5 101.9 27.8 102.8 24.5 103.3 21.2 102.9Z"/><path fill="#30ffc7" d="M0 106 106 106 106 0 0 0 0 106ZM19.9 104.1 17.3 102.7 16.4 100.7 15.9 96.1 16.1 89.4 17.2 81.4 19.2 71.8 21.9 62.8 24.5 56.4 27.8 50.2 32.5 43.2 39.1 34.2 44.4 27.9 48.4 24.4 51.7 22.4 55 21.6 57.6 22.3 60.3 24.8 62 29.1 62.6 35.1 61.9 41.7 60.5 48.4 57.7 57 51.9 72.2 47.4 82.8 44 89.4 40.8 94.7 37.2 99.4 34.4 101.9 31.8 103.3 29.1 104 23.8 104.4 19.9 104.1Z"/><path fill="#49ffad" d="M0 106 106 106 106 0 0 0 0 106ZM17.9 104.7 16.1 104 15.5 103.4 14.8 100.7 14.9 94.1 15.9 85.5 17.9 74.1 20.5 62.8 23.2 54.1 26.5 45.8 30.5 38 36.4 28.1 41.7 20.4 46.4 14.8 50.4 11.1 54.3 8.7 58.3 7.7 61.6 8.4 63.6 9.6 65.6 11.8 68.1 17.2 69.3 24.5 69 33.1 67.4 41.1 64.9 49 52.6 77.5 48.1 86.8 44.1 94.1 40.4 99.5 37.3 102.7 34.8 104 31.1 104.8 23.8 105.1 17.9 104.7Z"/><path fill="#63ff94" d="M0 106 106 106 106 0 76.3 0 77.9 6 78.8 13.2 78.7 20.5 77.7 27.8 76.1 34.4 73.7 41.1 64 61.6 48.6 92.1 44.8 98.7 41.9 102.7 39.8 104.3 37.1 105.1 23.8 105.7 15.6 105.3 14 104.7 13.4 103.4 13.4 99.4 14.1 92.8 17.2 73.8 23.2 44.4 26.9 31.1 30.2 23.2 34.6 14.6 39.2 6.6 43.9 0 0 0 0 106ZM9.9 15.9 8 14.6 7.1 13.2 6.8 11.3 7.2 9.9 8.2 8.6 9.9 7.7 11.9 7.5 13.2 7.8 15.2 9.2 16 10.6 16.3 12.6 16 13.9 15 15.2 13.2 16.1 9.9 15.9Z"/><path fill="#7dff7a" d="M1.2 105.3 4 105.7 9.3 105.5 10.6 105 11.3 103.7 18.3 62.9 19.5 53 20 43.7 19.3 31.1 18.4 26.5 17.2 23.9 14.6 21.9 8 19.4 2 16.4 1.3 16.8 0.7 19.5 0.1 37.8 0.1 96.7 0.4 103.4 0.6 104.7 1.2 105.3ZM51.1 105.3 68.2 105.7 92.1 105.4 101.1 104.7 106 103.5 106 24.3 98.7 27.5 92.1 32.3 82.2 42.6 74.9 51.7 60.3 77.8 49.1 100.7 48.2 104 48.6 104.7 51.1 105.3Z"/><path fill="#94ff63" d="M3 104 5.3 104.5 8 104 9.4 102.7 10.8 99.4 13 90.1 15.7 74.9 17.3 63.6 17.9 55 17.9 49 17.3 43.1 16.3 37.8 14.6 32.5 12.6 28.6 10.6 26.2 8 24.5 5.3 23.8 3.3 24.5 2 26.8 1 32.5 0.5 42.4 0.2 70.2 0.5 93.4 1.3 101.4 2 103.1 3 104ZM63.4 102.7 68.9 103.3 75.5 103 81.2 102 84.8 100.7 90.1 97.4 95.7 92.8 101 87.4 106 81.2 106 43.1 97.4 43.9 90.1 46.2 83.5 50.1 78.9 55 76.9 58.3 72.9 67.5 64.9 81.4 61.1 90.8 59.9 95.4 59.8 99.4 60.7 101.4 63.4 102.7Z"/><path fill="#adff49" d="M4.3 102 6 102.2 8 101.1 9.8 98.1 11.3 93.8 13.2 85.5 15 75.5 16.2 66.2 16.7 59 16.2 48.4 13.9 39.2 12 35.1 10.2 32.5 8 30.6 6 29.9 4.6 30.1 3.3 31.2 2 34.3 1.1 40.4 0.5 51 0.4 74.2 0.7 90.8 1.3 96.4 2 99.1 2.8 100.7 4.3 102ZM81.2 82.8 82.8 82.9 85.5 81.9 92.3 76.2 95.8 74.2 106 70.8 106 47.5 98.7 47.9 92.8 49.5 87.4 52.2 83.9 55.6 82.5 58.3 81.8 60.9 81.8 63.6 82.7 72.2 80.4 78.8 80.1 80.8 80.4 82.2 81.2 82.8Z"/><path fill="#c7ff30" d="M4.9 99.4 6.6 99.2 8.5 97.4 9.9 94.6 11.3 90.7 14.4 75.5 15.8 61 15.1 51 13.1 43.1 11.7 39.8 9.9 37.1 8 35.3 6 34.6 4.6 34.9 3.3 36.1 2 39.5 1.1 46.4 0.6 58.3 0.6 79.5 1.2 90.8 1.8 94.7 2.7 97.2 4 98.9 4.9 99.4ZM95.2 67.6 100 68 106 67.4 106 50.1 100 50.4 94.7 51.7 90.8 53.8 87.8 57 87 60.3 88.2 63.6 90.8 65.9 95.2 67.6Z"/><path fill="#e1ff16" d="M4.7 96.7 6.6 96.6 8 95.5 9.6 92.8 11 88.8 13.8 76.2 14.9 63.6 14.5 54.3 12.6 46.3 11.2 43.1 9.3 40.2 7.3 38.6 6 38.3 4.6 38.6 3.3 40 2 43.7 1.2 49.7 0.7 61 0.7 76.8 1.3 88.3 2.7 94.3 3.3 95.5 4.7 96.7ZM98.7 64.9 102 65.2 106 64.9 106 52.3 101.4 52.4 97.4 53.4 94.1 55 92.1 57 91.4 59.6 92.2 61.6 94.7 63.7 98.7 64.9Z"/><path fill="#f8f500" d="M4.3 94.1 6 94.5 7.3 93.8 9.3 91 10.6 87.7 13.1 76.8 14.2 65.6 13.8 56.3 12.1 49 10.7 45.7 9.3 43.5 8 42.2 6 41.4 4 42.3 2.6 45 1.5 51 1 59.6 0.9 72.9 1.3 84.4 2.6 91.4 4.3 94.1ZM100 62.3 102.7 62.6 106 62.4 106 54.7 100.7 55 98.7 55.7 96.9 57 96.1 59 96.6 60.3 98.1 61.5 100 62.3Z"/><path fill="#ffd700" d="M4.5 92.1 6 92.4 7.3 91.7 8.6 90 10.1 86.8 12.4 77.5 13.5 66.9 13.2 59 11.7 51.7 9.3 46.5 8 45 6 44.2 4 45.2 2.7 47.9 1.7 53 1.2 61.6 1.1 74.2 1.6 83.5 2.7 89.1 3.3 90.7 4.5 92.1Z"/><path fill="#ffb900" d="M4.6 90.1 6 90.4 7.3 89.7 8.6 87.9 9.9 84.9 11.9 76.8 12.8 67.6 12.6 60.3 11.2 53.7 9.9 50.4 8.6 48.3 7.3 47.1 6 46.7 4.6 47.1 4 47.8 2.7 50.9 1.9 55.6 1.3 64.3 1.4 74.9 2 83.3 3.2 88.1 4.6 90.1Z"/><path fill="#ff9c00" d="M4.7 88.1 6 88.5 7.3 87.7 9.4 84.1 11.3 76.8 12.2 68.2 11.9 61 10.6 55 8.6 50.9 7.3 49.6 6 49.1 4.6 49.6 4 50.4 2.9 53 2 58.4 1.6 64.3 2 80.2 3.1 85.5 4.7 88.1Z"/><path fill="#ff8200" d="M4.7 86.1 6 86.5 7.3 85.8 9.3 82.2 10.8 76.2 11.5 68.9 11.3 62.3 10.2 57 8.3 53 7.3 51.9 6 51.4 4.6 52 3.3 54.4 2.5 58.3 1.9 64.9 1.9 73.5 2.4 79.5 3.3 83.8 4.7 86.1Z"/><path fill="#ff6400" d="M4.9 84.1 6 84.5 6.6 84.3 8.6 81.5 10.1 76.2 10.9 69.6 10.7 63.6 9.8 59 8 55 6 53.8 4.6 54.4 3.3 57.3 2.7 60.7 2.3 66.2 2.7 77.9 3.4 81.5 4.9 84.1Z"/><path fill="#ff4700" d="M5.1 82.2 6 82.4 6.6 82.2 8.6 79 9.8 74.2 10.2 69.6 9.9 64.3 9.1 60.3 7.9 57.6 7.3 56.8 6 56.2 4.6 57 3.7 59 2.6 66.9 2.7 72.4 3.2 77.5 4 80.6 5.1 82.2Z"/><path fill="#ff2900" d="M4.9 79.5 6 80.1 6.6 79.9 7.8 78.2 8.7 75.5 9.3 70.9 9.3 66.2 8.6 62.4 7.3 59.5 6 58.8 4.6 59.8 4 61.4 3.2 66.9 3.3 74.2 4 77.6 4.9 79.5Z"/><path fill="#fa0f00" d="M5.2 76.8 6 77.3 7.3 76 8.1 73.5 8.4 70.2 8 64.7 7.3 62.9 6 61.8 5.3 62.2 4.6 63.3 3.9 67.6 4 72.9 5.2 76.8Z"/><path fill="#d60000" d="M5.9 72.9 6.6 72.2 7 69.6 6.6 67.1 6 66.4 5.3 67.4 5.1 69.6 5.3 72 5.9 72.9Z"/></g><g transform="translate(385.2 300.3) scale(1.00000 1.00000)"><rect width="106" height="106" fill="#0028ff"/><path fill="#0048ff" d="M0 106 106 106 106 0 0 0 0 106ZM24.5 89.6 23.6 88.8 23 86.8 23.1 84.1 23.9 81.5 25.2 79.1 27.2 77 29.2 76.1 30.5 76.2 31.8 77.5 32.2 79.5 32 82.2 31.1 84.7 29.8 87 27.8 89 25.8 89.8 24.5 89.6Z"/><path fill="#0068ff" d="M0 106 106 106 106 0 0 0 0 106ZM24.5 93.5 22.5 92.8 21 90.1 20.7 86.1 21.9 81.3 23.8 77.2 26.5 74 29.8 72 32.5 72.1 34.1 73.5 34.9 76.2 34.8 80.2 33.8 84.1 31.9 88.1 29.8 90.7 27.2 92.8 24.5 93.5Z"/><path fill="#0084ff" d="M0 106 106 106 106 0 0 0 0 106ZM22.5 96.1 21.2 95.4 20.2 94.1 19.1 90.1 19.4 84.8 21.2 79 23.9 74.2 27.8 70.1 31.1 68.4 33.1 68.2 34.4 68.5 36.4 70.7 37.3 74.9 36.8 80.2 34.9 86.1 32.5 90.6 29.2 94.1 25.8 96 23.8 96.3 22.5 96.1Z"/><path fill="#00a4ff" d="M0 106 106 106 106 0 0 0 0 106ZM21.9 98.7 19.9 97.6 18.8 96.1 17.7 91.4 18.2 84.8 20.5 77.4 23.8 71.6 27.8 67.3 30.5 65.5 32.5 64.7 34.4 64.4 36.4 64.9 37.8 66 38.7 67.6 39.4 70.2 39.5 72.9 38.8 79.5 36.4 86.8 33.5 92.1 29.8 96.1 25.8 98.5 23.9 98.9 21.9 98.7Z"/><path fill="#00c4ff" d="M0 106 106 106 106 0 0 0 0 106ZM20.5 100.8 19.1 100 17.6 98.1 16.8 95.4 16.5 92.1 17.2 84.7 19.9 76.1 23.8 69 28.5 64 31.1 62.1 33.8 60.8 36.4 60.2 38.4 60.6 39.9 61.6 41.1 63.6 41.7 66.2 41.9 69.6 40.6 78.8 37.8 87.7 34.1 94.1 29.8 98.6 27.5 100 25.2 100.9 22.5 101.2 20.5 100.8Z"/><path fill="#00e4f8" d="M0 106 106 106 106 0 0 0 0 106ZM20.5 102.8 18.3 102 16.6 100.1 15.7 97.4 15.4 94.1 15.6 88.8 16.6 83.5 17.9 78.7 19.9 73.4 21.9 69.5 24.5 65.5 29.8 59.8 33.1 57.4 36.4 55.7 39.1 55 41.7 55.3 43.2 56.3 44.4 59 44.8 62.3 44.6 66.2 42.5 78.2 39 88.8 35.1 95.6 30.5 100.4 28.5 101.6 25.8 102.6 20.5 102.8Z"/><path fill="#16ffe1" d="M0 106 106 106 106 0 0 0 0 106ZM20.5 104 17.2 103.4 15.6 102 14.6 99.4 14.3 95.4 14.7 89.4 15.9 82.7 17.9 75.9 20.5 69.5 23.2 64.7 25.8 60.9 29.2 57.1 33.1 53.4 37.8 50.1 42.4 47.6 45.7 46.5 48.4 46.6 49.6 47.7 50.1 49.7 49.9 53 48.9 59 44.1 78.8 41.8 86.1 39.6 91.4 35.6 98.1 31.4 102 27.2 103.6 20.5 104Z"/><path fill="#30ffc7" d="M0 106 106 106 106 0 0 0 0 106ZM18.6 104.7 15.2 103.9 13.7 102 13.2 98.1 13.6 91.4 15 83.5 17.2 75.2 19.9 68.3 23.8 60.7 27.2 55.8 31.1 51 35.8 46.5 50.5 33.8 54.7 29.1 62.3 19.5 65.6 16 68.2 13.9 70.9 12.7 72.9 12.4 74.9 13.1 76.2 14.7 76.9 17.9 76.5 21.9 75.1 25.8 71.3 32.5 60.3 46.2 55 54.8 50.4 65.7 42.3 89.4 38.5 97.4 35.1 101.7 31.8 103.6 26.1 104.7 18.6 104.7Z"/><path fill="#49ffad" d="M0 106 106 106 106 0 85.2 0 86.8 2.5 87.7 5.3 88.2 9.3 88 13.2 87.3 17.2 85.9 21.9 82.1 29.8 76.2 37.8 61.6 53.1 56.3 60.6 50.4 72.2 47.7 78.9 42.9 93.4 40.7 98.1 38.6 101.4 36.5 103.4 33.1 104.6 21.9 105.3 17.2 105.2 13.9 104.7 12.4 103.4 12 100 12.6 92.1 14.6 82 17.2 72.6 21.2 62.5 25.2 54.9 29.8 47.9 33.8 43.2 46.9 29.8 51.3 23.8 61.3 7.9 65.6 3.2 69.8 0 0 0 0 106Z"/><path fill="#63ff94" d="M0 106 106 106 106 0 100.5 0 99.9 8.6 97.9 17.2 94.6 25.2 90.1 32.5 83 40.4 68.9 52.6 63.6 57.7 59 63.1 54.3 69.7 49.7 79 44.6 96.1 41.5 102.7 39.8 104.3 36.4 105.2 21.9 105.7 12.4 105.3 11.1 104.7 10.7 103.4 11 97.4 12.4 88.8 14.6 79.2 17.2 70 21.9 57.5 26.5 47.8 31.1 40.8 41 29.8 45.4 23.8 48.9 17.2 54 4.6 56.2 0 0 0 0 106Z"/><path fill="#7dff7a" d="M0.6 105.3 2 105.7 6 105.7 7.8 105.3 8.4 104.7 11.8 88.1 14.6 76.5 18.6 62.8 23.2 49.4 27.8 39.6 38.3 25.8 41.9 19.2 43.3 14.6 43.9 9.3 43.4 4.6 41.7 0 0.7 0 0.2 15.2 0.1 63.6 0.2 100 0.6 105.3ZM51 105.3 69.6 105.6 85.5 105.1 92.5 104 95.2 102.7 96.7 101.4 99.5 97.4 102.3 92.1 104.4 86.8 106 81.6 106 56.6 104.3 53 102.1 50.3 98.8 48.4 95.4 47.8 90.8 48.3 84.8 50.2 77.5 53.8 70.9 58 64.3 63.2 59 68.3 55.6 72.4 52.9 76.8 50.8 81.5 49.4 86.8 47.3 103.4 48.1 104.7 51 105.3Z"/><path fill="#94ff63" d="M1.7 104 3.3 104.6 5.3 104.4 6.6 103.5 7.4 102 15.9 68.8 22.5 44.8 25.8 36.6 33.5 23.8 35.5 18.5 35.7 13.9 34.1 9.3 30.3 4.6 24.4 0 8.1 0 6 1.7 4 4.1 2.7 6.8 2 9.2 1.3 14 0.9 23.2 0.2 64.3 0.6 96.1 1 102 1.7 104ZM63.8 103.4 72.2 102.9 78.2 101.1 81.5 99 84 96.7 86.3 94.1 88.4 90.8 89.8 87.4 90.7 83.5 91.1 79.5 90.9 75.5 90.1 71.6 88.7 68.2 86.9 65.6 84.8 64 81.8 62.9 78.2 62.9 73.5 63.9 68.9 65.8 64.3 68.3 60.3 71.3 57 74.7 54.3 78.8 52.6 82.8 51.7 87.4 51.7 92.4 52.6 96.7 54.3 99.9 56.3 101.7 59 102.7 63.8 103.4Z"/><path fill="#adff49" d="M3 102 4.6 102.1 6 100.7 8.6 94.1 15.4 67.6 21.2 41.5 23.2 35.2 27.6 24.5 28.6 20.5 28.8 17.9 28.4 15.2 26.2 10.6 21.9 6.3 19.2 4.9 16.6 4.2 13.9 4.3 11.3 5.1 8.6 6.8 6.6 8.6 4 12.7 2.3 19.2 1.3 31.6 0.7 46.4 0.5 76.8 1.2 96.1 2 100.6 3 102ZM62.2 98.1 67.6 98.7 72.9 97.6 78.1 94.7 81.8 90.8 83.2 88.1 84.1 85.5 84.4 82.8 84.1 80.2 82.4 75.5 80.8 73.5 78.8 71.9 76.2 70.7 73.5 70.3 70.9 70.3 67.6 71 64.3 72.4 61.6 74 59 76.3 57 78.9 55.6 81.5 54.6 84.8 54.4 88.1 54.8 90.8 56 93.4 57.5 95.4 59.6 97 62.2 98.1Z"/><path fill="#c7ff30" d="M3 98.1 4 98.6 4.6 98.4 6.6 95.9 8.6 91 10.6 84.3 15.1 65.6 19.4 39.8 23.2 23.8 23.3 19.2 22.2 15.2 19.6 11.9 17.9 10.8 15.9 10.2 13.9 10.1 11.3 11 9.3 12.3 7.1 14.6 4.4 19.9 2.7 28.4 1.1 47 0.6 72.9 1.3 91.9 2 95.9 3 98.1ZM63.3 94.1 66.9 94.7 70.9 94.1 74.9 92.2 77.6 89.4 79.3 86.1 79.5 82.1 78.2 78.8 75.6 76.2 71.6 74.7 66.9 74.9 62.6 76.8 59.3 80.2 57.5 84.1 57.3 86.1 57.6 88.4 58.3 90.1 59.6 91.8 61.6 93.3 63.3 94.1Z"/><path fill="#e1ff16" d="M3.2 94.7 4 95.2 4.6 95.1 6 93.9 8.6 88.3 12.5 74.2 15.4 59 18.9 24.5 18.7 21.9 17.9 19.2 16.6 17.5 14.6 16.4 12.6 16.5 10.6 17.4 8.6 19.2 7.3 21.1 4.6 27.5 2.7 36.7 1.3 50.3 0.9 73.5 1.5 88.1 2 91.6 3.2 94.7ZM66.1 90.8 68.2 90.8 70.9 90.1 72.9 88.7 74.4 86.8 75 84.1 74.7 82.2 73.5 80.4 71.6 79 68.9 78.4 65.6 79 62.9 80.8 61.5 82.8 60.9 85.5 61.6 88 63.6 89.9 66.1 90.8Z"/><path fill="#f8f500" d="M3.9 92.1 5.3 91.8 6.6 90.2 9.3 83.8 12.5 71.6 14.5 59.6 15.3 47 15.2 31.1 14.7 27.8 14 25.8 13.2 24.9 11.9 24.3 10.6 24.6 8.6 26.2 6 30.7 3.3 39.1 2 47.5 1.2 62.3 1.3 80.4 2.1 88.1 2.7 90.3 3.9 92.1Z"/><path fill="#ffd700" d="M3.5 88.8 4.6 89.4 6 88.6 8.6 83.3 11.4 73.5 13.4 61.6 14 51 13.5 41.1 12 34.4 11.3 33.3 9.9 32.5 8 33.5 5.3 37.6 3.3 43.9 2.2 51 1.5 62.9 1.5 75.5 2 83.5 2.7 86.9 3.5 88.8Z"/><path fill="#ffb900" d="M3.8 86.1 4.6 86.8 6 86.1 8.4 81.5 10.7 73.5 12.4 63.6 13 55 12.6 47 11.3 41.1 10.6 39.8 9.3 38.6 8.6 38.5 7.3 39.2 5.3 42 3.9 45.7 2.6 52.3 1.8 62.3 1.8 74.2 2.6 82.8 3.8 86.1Z"/><path fill="#ff9c00" d="M3.9 83.5 4.6 84.1 6 83.6 8 80.2 10 73.5 11.5 64.9 12 57 11.6 50.3 10.5 45.7 9.9 44.4 8.6 43.2 8 43.1 6.6 43.9 4.8 47 3.3 52.3 2.6 57 2.1 65.6 2.2 74.2 2.7 79.5 3.9 83.5Z"/><path fill="#ff8200" d="M4.3 80.8 5.3 81.3 6 81 8 77.5 9.5 72.2 10.6 65.6 11 59 10.6 53 9.5 49 8.6 47.6 8 47.3 6.6 47.7 5 50.3 4 53.4 3.1 59 2.6 64.9 2.7 72.4 3.3 78.3 4.3 80.8Z"/><path fill="#ff6400" d="M5.1 78.2 6 78.1 6.6 77.3 8 74.4 9.3 69 9.9 64.3 10 59 9.5 55 8.6 52.3 7.3 51.3 6 52.3 4.6 55.2 3.3 63.4 3.4 72.9 4 76.5 5.1 78.2Z"/><path fill="#ff4700" d="M5.1 74.2 6 74.5 7.3 72.4 8.6 66.4 8.6 59.1 8 56.7 7.3 55.9 6.6 55.9 6 56.6 5.3 57.9 4.2 62.9 4 69.6 4.5 72.9 5.1 74.2Z"/><path fill="#ff2900" d="M5.9 67.6 6.6 66.8 6.6 63.6 5.9 64.3 5.9 67.6Z"/></g><g transform="translate(505.5 60.3) scale(0.81429 1.00000)"><rect y="102.79" width="7" height="3.51" fill="#00008d"/><rect y="99.58" width="7" height="3.51" fill="#0000b2"/><rect y="96.36" width="7" height="3.51" fill="#0000d6"/><rect y="93.15" width="7" height="3.51" fill="#0000fa"/><rect y="89.94" width="7" height="3.51" fill="#0008ff"/><rect y="86.73" width="7" height="3.51" fill="#0028ff"/><rect y="83.52" width="7" height="3.51" fill="#0048ff"/><rect y="80.30" width="7" height="3.51" fill="#0068ff"/><rect y="77.09" width="7" height="3.51" fill="#0084ff"/><rect y="73.88" width="7" height="3.51" fill="#00a4ff"/><rect y="70.67" width="7" height="3.51" fill="#00c4ff"/><rect y="67.45" width="7" height="3.51" fill="#00e4f8"/><rect y="64.24" width="7" height="3.51" fill="#16ffe1"/><rect y="61.03" width="7" height="3.51" fill="#30ffc7"/><rect y="57.82" width="7" height="3.51" fill="#49ffad"/><rect y="54.61" width="7" height="3.51" fill="#63ff94"/><rect y="51.39" width="7" height="3.51" fill="#7dff7a"/><rect y="48.18" width="7" height="3.51" fill="#94ff63"/><rect y="44.97" width="7" height="3.51" fill="#adff49"/><rect y="41.76" width="7" height="3.51" fill="#c7ff30"/><rect y="38.55" width="7" height="3.51" fill="#e1ff16"/><rect y="35.33" width="7" height="3.51" fill="#f8f500"/><rect y="32.12" width="7" height="3.51" fill="#ffd700"/><rect y="28.91" width="7" height="3.51" fill="#ffb900"/><rect y="25.70" width="7" height="3.51" fill="#ff9c00"/><rect y="22.48" width="7" height="3.51" fill="#ff8200"/><rect y="19.27" width="7" height="3.51" fill="#ff6400"/><rect y="16.06" width="7" height="3.51" fill="#ff4700"/><rect y="12.85" width="7" height="3.51" fill="#ff2900"/><rect y="9.64" width="7" height="3.51" fill="#fa0f00"/><rect y="6.42" width="7" height="3.51" fill="#d60000"/><rect y="3.21" width="7" height="3.51" fill="#b20000"/><rect y="0.00" width="7" height="3.51" fill="#8d0000"/></g><g transform="translate(505.5 180.3) scale(0.81429 1.00000)"><rect y="102.79" width="7" height="3.51" fill="#00008d"/><rect y="99.58" width="7" height="3.51" fill="#0000b2"/><rect y="96.36" width="7" height="3.51" fill="#0000d6"/><rect y="93.15" width="7" height="3.51" fill="#0000fa"/><rect y="89.94" width="7" height="3.51" fill="#0008ff"/><rect y="86.73" width="7" height="3.51" fill="#0028ff"/><rect y="83.52" width="7" height="3.51" fill="#0048ff"/><rect y="80.30" width="7" height="3.51" fill="#0068ff"/><rect y="77.09" width="7" height="3.51" fill="#0084ff"/><rect y="73.88" width="7" height="3.51" fill="#00a4ff"/><rect y="70.67" width="7" height="3.51" fill="#00c4ff"/><rect y="67.45" width="7" height="3.51" fill="#00e4f8"/><rect y="64.24" width="7" height="3.51" fill="#16ffe1"/><rect y="61.03" width="7" height="3.51" fill="#30ffc7"/><rect y="57.82" width="7" height="3.51" fill="#49ffad"/><rect y="54.61" width="7" height="3.51" fill="#63ff94"/><rect y="51.39" width="7" height="3.51" fill="#7dff7a"/><rect y="48.18" width="7" height="3.51" fill="#94ff63"/><rect y="44.97" width="7" height="3.51" fill="#adff49"/><rect y="41.76" width="7" height="3.51" fill="#c7ff30"/><rect y="38.55" width="7" height="3.51" fill="#e1ff16"/><rect y="35.33" width="7" height="3.51" fill="#f8f500"/><rect y="32.12" width="7" height="3.51" fill="#ffd700"/><rect y="28.91" width="7" height="3.51" fill="#ffb900"/><rect y="25.70" width="7" height="3.51" fill="#ff9c00"/><rect y="22.48" width="7" height="3.51" fill="#ff8200"/><rect y="19.27" width="7" height="3.51" fill="#ff6400"/><rect y="16.06" width="7" height="3.51" fill="#ff4700"/><rect y="12.85" width="7" height="3.51" fill="#ff2900"/><rect y="9.64" width="7" height="3.51" fill="#fa0f00"/><rect y="6.42" width="7" height="3.51" fill="#d60000"/><rect y="3.21" width="7" height="3.51" fill="#b20000"/><rect y="0.00" width="7" height="3.51" fill="#8d0000"/></g><g transform="translate(505.5 300.3) scale(0.81429 1.00000)"><rect y="102.79" width="7" height="3.51" fill="#00008d"/><rect y="99.58" width="7" height="3.51" fill="#0000b2"/><rect y="96.36" width="7" height="3.51" fill="#0000d6"/><rect y="93.15" width="7" height="3.51" fill="#0000fa"/><rect y="89.94" width="7" height="3.51" fill="#0008ff"/><rect y="86.73" width="7" height="3.51" fill="#0028ff"/><rect y="83.52" width="7" height="3.51" fill="#0048ff"/><rect y="80.30" width="7" height="3.51" fill="#0068ff"/><rect y="77.09" width="7" height="3.51" fill="#0084ff"/><rect y="73.88" width="7" height="3.51" fill="#00a4ff"/><rect y="70.67" width="7" height="3.51" fill="#00c4ff"/><rect y="67.45" width="7" height="3.51" fill="#00e4f8"/><rect y="64.24" width="7" height="3.51" fill="#16ffe1"/><rect y="61.03" width="7" height="3.51" fill="#30ffc7"/><rect y="57.82" width="7" height="3.51" fill="#49ffad"/><rect y="54.61" width="7" height="3.51" fill="#63ff94"/><rect y="51.39" width="7" height="3.51" fill="#7dff7a"/><rect y="48.18" width="7" height="3.51" fill="#94ff63"/><rect y="44.97" width="7" height="3.51" fill="#adff49"/><rect y="41.76" width="7" height="3.51" fill="#c7ff30"/><rect y="38.55" width="7" height="3.51" fill="#e1ff16"/><rect y="35.33" width="7" height="3.51" fill="#f8f500"/><rect y="32.12" width="7" height="3.51" fill="#ffd700"/><rect y="28.91" width="7" height="3.51" fill="#ffb900"/><rect y="25.70" width="7" height="3.51" fill="#ff9c00"/><rect y="22.48" width="7" height="3.51" fill="#ff8200"/><rect y="19.27" width="7" height="3.51" fill="#ff6400"/><rect y="16.06" width="7" height="3.51" fill="#ff4700"/><rect y="12.85" width="7" height="3.51" fill="#ff2900"/><rect y="9.64" width="7" height="3.51" fill="#fa0f00"/><rect y="6.42" width="7" height="3.51" fill="#d60000"/><rect y="3.21" width="7" height="3.51" fill="#b20000"/><rect y="0.00" width="7" height="3.51" fill="#8d0000"/></g><path d="M45.95 60.3v3.5M45.95 166.30v-3.5M24.75 81.5h3.5M130.75 81.5h-3.5M67.15 60.3v3.5M67.15 166.30v-3.5M24.75 102.7h3.5M130.75 102.7h-3.5M88.35 60.3v3.5M88.35 166.30v-3.5M24.75 123.9h3.5M130.75 123.9h-3.5M109.55 60.3v3.5M109.55 166.30v-3.5M24.75 145.1h3.5M130.75 145.1h-3.5M166.1 60.3v3.5M166.1 166.30v-3.5M144.9 81.5h3.5M250.90 81.5h-3.5M187.3 60.3v3.5M187.3 166.30v-3.5M144.9 102.7h3.5M250.90 102.7h-3.5M208.5 60.3v3.5M208.5 166.30v-3.5M144.9 123.9h3.5M250.90 123.9h-3.5M229.7 60.3v3.5M229.7 166.30v-3.5M144.9 145.1h3.5M250.90 145.1h-3.5M286.25 60.3v3.5M286.25 166.30v-3.5M265.05 81.5h3.5M371.05 81.5h-3.5M307.45 60.3v3.5M307.45 166.30v-3.5M265.05 102.7h3.5M371.05 102.7h-3.5M328.65 60.3v3.5M328.65 166.30v-3.5M265.05 123.9h3.5M371.05 123.9h-3.5M349.85 60.3v3.5M349.85 166.30v-3.5M265.05 145.1h3.5M371.05 145.1h-3.5M406.4 60.3v3.5M406.4 166.30v-3.5M385.2 81.5h3.5M491.20 81.5h-3.5M427.6 60.3v3.5M427.6 166.30v-3.5M385.2 102.7h3.5M491.20 102.7h-3.5M448.8 60.3v3.5M448.8 166.30v-3.5M385.2 123.9h3.5M491.20 123.9h-3.5M470.0 60.3v3.5M470.0 166.30v-3.5M385.2 145.1h3.5M491.20 145.1h-3.5M45.95 180.3v3.5M45.95 286.30v-3.5M24.75 201.5h3.5M130.75 201.5h-3.5M67.15 180.3v3.5M67.15 286.30v-3.5M24.75 222.7h3.5M130.75 222.7h-3.5M88.35 180.3v3.5M88.35 286.30v-3.5M24.75 243.9h3.5M130.75 243.9h-3.5M109.55 180.3v3.5M109.55 286.30v-3.5M24.75 265.1h3.5M130.75 265.1h-3.5M166.1 180.3v3.5M166.1 286.30v-3.5M144.9 201.5h3.5M250.90 201.5h-3.5M187.3 180.3v3.5M187.3 286.30v-3.5M144.9 222.7h3.5M250.90 222.7h-3.5M208.5 180.3v3.5M208.5 286.30v-3.5M144.9 243.9h3.5M250.90 243.9h-3.5M229.7 180.3v3.5M229.7 286.30v-3.5M144.9 265.1h3.5M250.90 265.1h-3.5M286.25 180.3v3.5M286.25 286.30v-3.5M265.05 201.5h3.5M371.05 201.5h-3.5M307.45 180.3v3.5M307.45 286.30v-3.5M265.05 222.7h3.5M371.05 222.7h-3.5M328.65 180.3v3.5M328.65 286.30v-3.5M265.05 243.9h3.5M371.05 243.9h-3.5M349.85 180.3v3.5M349.85 286.30v-3.5M265.05 265.1h3.5M371.05 265.1h-3.5M406.4 180.3v3.5M406.4 286.30v-3.5M385.2 201.5h3.5M491.20 201.5h-3.5M427.6 180.3v3.5M427.6 286.30v-3.5M385.2 222.7h3.5M491.20 222.7h-3.5M448.8 180.3v3.5M448.8 286.30v-3.5M385.2 243.9h3.5M491.20 243.9h-3.5M470.0 180.3v3.5M470.0 286.30v-3.5M385.2 265.1h3.5M491.20 265.1h-3.5M45.95 300.3v3.5M45.95 406.30v-3.5M24.75 321.5h3.5M130.75 321.5h-3.5M67.15 300.3v3.5M67.15 406.30v-3.5M24.75 342.7h3.5M130.75 342.7h-3.5M88.35 300.3v3.5M88.35 406.30v-3.5M24.75 363.9h3.5M130.75 363.9h-3.5M109.55 300.3v3.5M109.55 406.30v-3.5M24.75 385.1h3.5M130.75 385.1h-3.5M166.1 300.3v3.5M166.1 406.30v-3.5M144.9 321.5h3.5M250.90 321.5h-3.5M187.3 300.3v3.5M187.3 406.30v-3.5M144.9 342.7h3.5M250.90 342.7h-3.5M208.5 300.3v3.5M208.5 406.30v-3.5M144.9 363.9h3.5M250.90 363.9h-3.5M229.7 300.3v3.5M229.7 406.30v-3.5M144.9 385.1h3.5M250.90 385.1h-3.5M286.25 300.3v3.5M286.25 406.30v-3.5M265.05 321.5h3.5M371.05 321.5h-3.5M307.45 300.3v3.5M307.45 406.30v-3.5M265.05 342.7h3.5M371.05 342.7h-3.5M328.65 300.3v3.5M328.65 406.30v-3.5M265.05 363.9h3.5M371.05 363.9h-3.5M349.85 300.3v3.5M349.85 406.30v-3.5M265.05 385.1h3.5M371.05 385.1h-3.5M406.4 300.3v3.5M406.4 406.30v-3.5M385.2 321.5h3.5M491.20 321.5h-3.5M427.6 300.3v3.5M427.6 406.30v-3.5M385.2 342.7h3.5M491.20 342.7h-3.5M448.8 300.3v3.5M448.8 406.30v-3.5M385.2 363.9h3.5M491.20 363.9h-3.5M470.0 300.3v3.5M470.0 406.30v-3.5M385.2 385.1h3.5M491.20 385.1h-3.5" stroke="#222" stroke-width="0.8" fill="none"/><path d="M24.75 60.3h106.0v106.0h-106.0ZM144.9 60.3h106.0v106.0h-106.0ZM265.05 60.3h106.0v106.0h-106.0ZM385.2 60.3h106.0v106.0h-106.0ZM24.75 180.3h106.0v106.0h-106.0ZM144.9 180.3h106.0v106.0h-106.0ZM265.05 180.3h106.0v106.0h-106.0ZM385.2 180.3h106.0v106.0h-106.0ZM24.75 300.3h106.0v106.0h-106.0ZM144.9 300.3h106.0v106.0h-106.0ZM265.05 300.3h106.0v106.0h-106.0ZM385.2 300.3h106.0v106.0h-106.0ZM505.5 60.3h5.7v106.0h-5.7ZM505.5 180.3h5.7v106.0h-5.7ZM505.5 300.3h5.7v106.0h-5.7Z" stroke="#000" stroke-width="1" fill="none"/></svg>
<div class="t" style="left:29.5px;width:106px;top:38.1px">RANS</div>
<div class="t" style="left:145.9px;width:106px;top:39.5px">DNS</div>
<div class="t" style="left:266.3px;width:106px;top:1.9px">Reynolds<br>stress vector<br>approach</div>
<div class="t" style="left:386.5px;width:106px;top:1.9px">Reynolds<br>stress tensor<br>approach</div>
<div class="yl" style="left:-1.3px;top:121.3px">U<sub>x</sub></div>
<div class="yl" style="left:-1.3px;top:241.3px">U<sub>y</sub></div>
<div class="yl" style="left:-1.3px;top:361.3px">U<sub>z</sub></div>
<div class="cl" style="left:478.8px;top:47.6px">1e&minus;1</div>
<div class="cl" style="left:478.8px;top:168.3px">1e&minus;2</div>
<div class="cl" style="left:478.8px;top:288.3px">1e&minus;2</div>
<div class="cl" style="left:515px;top:54px">8.0</div>
<div class="cl" style="left:515px;top:160px">0.0</div>
<div class="cl" style="left:515px;top:174px">1.1</div>
<div class="cl" style="left:515px;top:280px">&minus;1.0</div>
<div class="cl" style="left:515px;top:294px">1.1</div>
<div class="cl" style="left:515px;top:400px">&minus;1.0</div>
</body></html>
